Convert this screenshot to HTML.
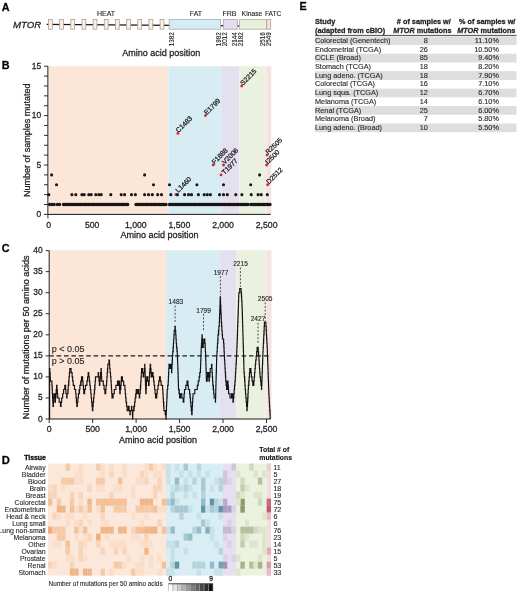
<!DOCTYPE html>
<html><head><meta charset="utf-8"><title>MTOR mutations figure</title>
<style>
html,body{margin:0;padding:0;background:#fff;}
body{width:520px;height:591px;overflow:hidden;}
svg{display:block;font-family:'Liberation Sans', Arial, Helvetica, sans-serif;}
text{stroke:#231f20;stroke-width:0.28px;paint-order:stroke;}
text.ns{stroke:none;}
text.ls{stroke-width:0.12px;}
</style></head><body>
<svg width="520" height="591" viewBox="0 0 520 591">
<rect width="520" height="591" fill="#fff"/>
<text x="1.70" y="10.60" font-size="10.8" font-weight="bold" fill="#000">A</text>
<text x="13.00" y="27.60" font-size="9.6" font-style="italic" fill="#231f20">MTOR</text>
<line x1="46.6" y1="24.4" x2="239" y2="25.9" stroke="#1a1617" stroke-width="1.4"/>
<rect x="48.50" y="19.4" width="3.8" height="9.8" fill="#fcefe3" stroke="#aaa199" stroke-width="0.8"/>
<rect x="59.66" y="19.4" width="3.8" height="9.8" fill="#fcefe3" stroke="#aaa199" stroke-width="0.8"/>
<rect x="70.82" y="19.4" width="3.8" height="9.8" fill="#fcefe3" stroke="#aaa199" stroke-width="0.8"/>
<rect x="81.98" y="19.4" width="3.8" height="9.8" fill="#fcefe3" stroke="#aaa199" stroke-width="0.8"/>
<rect x="93.14" y="19.4" width="3.8" height="9.8" fill="#fcefe3" stroke="#aaa199" stroke-width="0.8"/>
<rect x="104.30" y="19.4" width="3.8" height="9.8" fill="#fcefe3" stroke="#aaa199" stroke-width="0.8"/>
<rect x="115.46" y="19.4" width="3.8" height="9.8" fill="#fcefe3" stroke="#aaa199" stroke-width="0.8"/>
<rect x="126.62" y="19.4" width="3.8" height="9.8" fill="#fcefe3" stroke="#aaa199" stroke-width="0.8"/>
<rect x="137.78" y="19.4" width="3.8" height="9.8" fill="#fcefe3" stroke="#aaa199" stroke-width="0.8"/>
<rect x="148.94" y="19.4" width="3.8" height="9.8" fill="#fcefe3" stroke="#aaa199" stroke-width="0.8"/>
<rect x="160.10" y="19.4" width="3.8" height="9.8" fill="#fcefe3" stroke="#aaa199" stroke-width="0.8"/>
<rect x="169.2" y="19.4" width="51.4" height="9.8" fill="#d6ecf5" stroke="#a3aeb3" stroke-width="0.8"/>
<rect x="223.3" y="19.4" width="14" height="9.8" fill="#e3ddec" stroke="#aaa5ae" stroke-width="0.8"/>
<rect x="239.5" y="19.4" width="27.2" height="9.8" fill="#eaf1da" stroke="#aab09f" stroke-width="0.8"/>
<rect x="266.7" y="19.4" width="4" height="9.8" fill="#f6e0d8" stroke="#b1a39e" stroke-width="0.8"/>
<text x="106.00" y="15.60" font-size="7.0" text-anchor="middle" fill="#231f20" class="ls">HEAT</text>
<text x="196.00" y="15.60" font-size="7.0" text-anchor="middle" fill="#231f20" class="ls">FAT</text>
<text x="229.50" y="15.60" font-size="7.0" text-anchor="middle" fill="#231f20" class="ls">FRB</text>
<text x="241.60" y="15.60" font-size="6.8" fill="#231f20" class="ls">Kinase</text>
<text x="264.90" y="15.60" font-size="6.6" fill="#231f20" class="ls">FATC</text>
<text transform="translate(173.80,32.20) rotate(-90)" font-size="6.3" text-anchor="end" fill="#231f20" class="ls">1382</text>
<text transform="translate(221.10,32.20) rotate(-90)" font-size="6.3" text-anchor="end" fill="#231f20" class="ls">1982</text>
<text transform="translate(227.00,32.20) rotate(-90)" font-size="6.3" text-anchor="end" fill="#231f20" class="ls">2012</text>
<text transform="translate(236.80,32.20) rotate(-90)" font-size="6.3" text-anchor="end" fill="#231f20" class="ls">2144</text>
<text transform="translate(243.10,32.20) rotate(-90)" font-size="6.3" text-anchor="end" fill="#231f20" class="ls">2182</text>
<text transform="translate(265.40,32.20) rotate(-90)" font-size="6.3" text-anchor="end" fill="#231f20" class="ls">2516</text>
<text transform="translate(271.00,32.20) rotate(-90)" font-size="6.3" text-anchor="end" fill="#231f20" class="ls">2549</text>
<text x="161.30" y="55.50" font-size="9.0" text-anchor="middle" fill="#231f20">Amino acid position</text>
<rect x="49.20" y="66.20" width="119.20" height="148.00" fill="#fce6d7"/>
<rect x="168.40" y="66.20" width="52.90" height="148.00" fill="#d8ecf4"/>
<rect x="221.30" y="66.20" width="17.90" height="148.00" fill="#e5e0ef"/>
<rect x="239.20" y="66.20" width="27.40" height="148.00" fill="#ebf1df"/>
<rect x="266.60" y="66.20" width="4.60" height="148.00" fill="#f5e2e3"/>
<rect x="264.1" y="66.2" width="2.5" height="148" fill="#f1efe4"/>
<text x="1.80" y="68.90" font-size="10.8" font-weight="bold" fill="#000">B</text>
<line x1="47.9" y1="66.20" x2="47.9" y2="214.40" stroke="#1a1617" stroke-width="1.0"/>
<line x1="47.9" y1="214.40" x2="270.8" y2="214.40" stroke="#1a1617" stroke-width="1.0"/>
<line x1="44.0" y1="214.40" x2="47.9" y2="214.40" stroke="#1a1617" stroke-width="0.9"/>
<line x1="44.0" y1="204.52" x2="47.9" y2="204.52" stroke="#1a1617" stroke-width="0.9"/>
<line x1="44.0" y1="194.64" x2="47.9" y2="194.64" stroke="#1a1617" stroke-width="0.9"/>
<line x1="44.0" y1="184.76" x2="47.9" y2="184.76" stroke="#1a1617" stroke-width="0.9"/>
<line x1="44.0" y1="174.88" x2="47.9" y2="174.88" stroke="#1a1617" stroke-width="0.9"/>
<line x1="44.0" y1="165.00" x2="47.9" y2="165.00" stroke="#1a1617" stroke-width="0.9"/>
<line x1="44.0" y1="155.12" x2="47.9" y2="155.12" stroke="#1a1617" stroke-width="0.9"/>
<line x1="44.0" y1="145.24" x2="47.9" y2="145.24" stroke="#1a1617" stroke-width="0.9"/>
<line x1="44.0" y1="135.36" x2="47.9" y2="135.36" stroke="#1a1617" stroke-width="0.9"/>
<line x1="44.0" y1="125.48" x2="47.9" y2="125.48" stroke="#1a1617" stroke-width="0.9"/>
<line x1="44.0" y1="115.60" x2="47.9" y2="115.60" stroke="#1a1617" stroke-width="0.9"/>
<line x1="44.0" y1="105.72" x2="47.9" y2="105.72" stroke="#1a1617" stroke-width="0.9"/>
<line x1="44.0" y1="95.84" x2="47.9" y2="95.84" stroke="#1a1617" stroke-width="0.9"/>
<line x1="44.0" y1="85.96" x2="47.9" y2="85.96" stroke="#1a1617" stroke-width="0.9"/>
<line x1="44.0" y1="76.08" x2="47.9" y2="76.08" stroke="#1a1617" stroke-width="0.9"/>
<line x1="44.0" y1="66.20" x2="47.9" y2="66.20" stroke="#1a1617" stroke-width="0.9"/>
<text x="41.20" y="217.00" font-size="8.4" text-anchor="end" fill="#231f20">0</text>
<text x="41.20" y="167.60" font-size="8.4" text-anchor="end" fill="#231f20">5</text>
<text x="41.20" y="118.20" font-size="8.4" text-anchor="end" fill="#231f20">10</text>
<text x="41.20" y="68.80" font-size="8.4" text-anchor="end" fill="#231f20">15</text>
<line x1="47.9" y1="214.40" x2="47.9" y2="218.40" stroke="#1a1617" stroke-width="0.9"/>
<text x="48.60" y="227.90" font-size="8.7" text-anchor="middle" fill="#231f20">0</text>
<text x="92.20" y="227.90" font-size="8.7" text-anchor="middle" fill="#231f20">500</text>
<text x="135.80" y="227.90" font-size="8.7" text-anchor="middle" fill="#231f20">1,000</text>
<text x="179.40" y="227.90" font-size="8.7" text-anchor="middle" fill="#231f20">1,500</text>
<text x="223.00" y="227.90" font-size="8.7" text-anchor="middle" fill="#231f20">2,000</text>
<text x="266.60" y="227.90" font-size="8.7" text-anchor="middle" fill="#231f20">2,500</text>
<text x="159.50" y="238.00" font-size="9.0" text-anchor="middle" fill="#231f20">Amino acid position</text>
<text transform="translate(29.60,140.30) rotate(-90)" font-size="9.05" text-anchor="middle" fill="#231f20">Number of samples mutated</text>
<circle cx="49.60" cy="204.52" r="1.65" fill="#1a1517"/>
<circle cx="51.90" cy="204.52" r="1.65" fill="#1a1517"/>
<circle cx="54.20" cy="204.52" r="1.65" fill="#1a1517"/>
<circle cx="57.30" cy="204.52" r="1.65" fill="#1a1517"/>
<circle cx="59.60" cy="204.52" r="1.65" fill="#1a1517"/>
<circle cx="63.50" cy="204.52" r="1.65" fill="#1a1517"/>
<circle cx="64.81" cy="204.52" r="1.65" fill="#1a1517"/>
<circle cx="66.12" cy="204.52" r="1.65" fill="#1a1517"/>
<circle cx="67.43" cy="204.52" r="1.65" fill="#1a1517"/>
<circle cx="68.74" cy="204.52" r="1.65" fill="#1a1517"/>
<circle cx="70.05" cy="204.52" r="1.65" fill="#1a1517"/>
<circle cx="71.36" cy="204.52" r="1.65" fill="#1a1517"/>
<circle cx="72.67" cy="204.52" r="1.65" fill="#1a1517"/>
<circle cx="73.98" cy="204.52" r="1.65" fill="#1a1517"/>
<circle cx="75.29" cy="204.52" r="1.65" fill="#1a1517"/>
<circle cx="76.60" cy="204.52" r="1.65" fill="#1a1517"/>
<circle cx="77.91" cy="204.52" r="1.65" fill="#1a1517"/>
<circle cx="79.22" cy="204.52" r="1.65" fill="#1a1517"/>
<circle cx="80.53" cy="204.52" r="1.65" fill="#1a1517"/>
<circle cx="81.84" cy="204.52" r="1.65" fill="#1a1517"/>
<circle cx="83.15" cy="204.52" r="1.65" fill="#1a1517"/>
<circle cx="84.46" cy="204.52" r="1.65" fill="#1a1517"/>
<circle cx="85.77" cy="204.52" r="1.65" fill="#1a1517"/>
<circle cx="87.08" cy="204.52" r="1.65" fill="#1a1517"/>
<circle cx="88.39" cy="204.52" r="1.65" fill="#1a1517"/>
<circle cx="89.70" cy="204.52" r="1.65" fill="#1a1517"/>
<circle cx="91.01" cy="204.52" r="1.65" fill="#1a1517"/>
<circle cx="92.32" cy="204.52" r="1.65" fill="#1a1517"/>
<circle cx="93.63" cy="204.52" r="1.65" fill="#1a1517"/>
<circle cx="94.94" cy="204.52" r="1.65" fill="#1a1517"/>
<circle cx="96.26" cy="204.52" r="1.65" fill="#1a1517"/>
<circle cx="97.57" cy="204.52" r="1.65" fill="#1a1517"/>
<circle cx="98.88" cy="204.52" r="1.65" fill="#1a1517"/>
<circle cx="100.19" cy="204.52" r="1.65" fill="#1a1517"/>
<circle cx="101.50" cy="204.52" r="1.65" fill="#1a1517"/>
<circle cx="102.81" cy="204.52" r="1.65" fill="#1a1517"/>
<circle cx="104.12" cy="204.52" r="1.65" fill="#1a1517"/>
<circle cx="105.43" cy="204.52" r="1.65" fill="#1a1517"/>
<circle cx="106.74" cy="204.52" r="1.65" fill="#1a1517"/>
<circle cx="108.05" cy="204.52" r="1.65" fill="#1a1517"/>
<circle cx="109.36" cy="204.52" r="1.65" fill="#1a1517"/>
<circle cx="110.67" cy="204.52" r="1.65" fill="#1a1517"/>
<circle cx="111.98" cy="204.52" r="1.65" fill="#1a1517"/>
<circle cx="113.29" cy="204.52" r="1.65" fill="#1a1517"/>
<circle cx="114.60" cy="204.52" r="1.65" fill="#1a1517"/>
<circle cx="115.91" cy="204.52" r="1.65" fill="#1a1517"/>
<circle cx="117.22" cy="204.52" r="1.65" fill="#1a1517"/>
<circle cx="118.53" cy="204.52" r="1.65" fill="#1a1517"/>
<circle cx="119.84" cy="204.52" r="1.65" fill="#1a1517"/>
<circle cx="121.15" cy="204.52" r="1.65" fill="#1a1517"/>
<circle cx="122.46" cy="204.52" r="1.65" fill="#1a1517"/>
<circle cx="123.77" cy="204.52" r="1.65" fill="#1a1517"/>
<circle cx="125.08" cy="204.52" r="1.65" fill="#1a1517"/>
<circle cx="126.39" cy="204.52" r="1.65" fill="#1a1517"/>
<circle cx="127.70" cy="204.52" r="1.65" fill="#1a1517"/>
<circle cx="136.00" cy="204.52" r="1.65" fill="#1a1517"/>
<circle cx="137.30" cy="204.52" r="1.65" fill="#1a1517"/>
<circle cx="138.61" cy="204.52" r="1.65" fill="#1a1517"/>
<circle cx="139.91" cy="204.52" r="1.65" fill="#1a1517"/>
<circle cx="141.22" cy="204.52" r="1.65" fill="#1a1517"/>
<circle cx="142.52" cy="204.52" r="1.65" fill="#1a1517"/>
<circle cx="143.83" cy="204.52" r="1.65" fill="#1a1517"/>
<circle cx="145.13" cy="204.52" r="1.65" fill="#1a1517"/>
<circle cx="146.43" cy="204.52" r="1.65" fill="#1a1517"/>
<circle cx="147.74" cy="204.52" r="1.65" fill="#1a1517"/>
<circle cx="149.04" cy="204.52" r="1.65" fill="#1a1517"/>
<circle cx="150.35" cy="204.52" r="1.65" fill="#1a1517"/>
<circle cx="151.65" cy="204.52" r="1.65" fill="#1a1517"/>
<circle cx="152.96" cy="204.52" r="1.65" fill="#1a1517"/>
<circle cx="154.26" cy="204.52" r="1.65" fill="#1a1517"/>
<circle cx="155.57" cy="204.52" r="1.65" fill="#1a1517"/>
<circle cx="156.87" cy="204.52" r="1.65" fill="#1a1517"/>
<circle cx="158.17" cy="204.52" r="1.65" fill="#1a1517"/>
<circle cx="159.48" cy="204.52" r="1.65" fill="#1a1517"/>
<circle cx="160.78" cy="204.52" r="1.65" fill="#1a1517"/>
<circle cx="162.09" cy="204.52" r="1.65" fill="#1a1517"/>
<circle cx="163.39" cy="204.52" r="1.65" fill="#1a1517"/>
<circle cx="164.70" cy="204.52" r="1.65" fill="#1a1517"/>
<circle cx="166.00" cy="204.52" r="1.65" fill="#1a1517"/>
<circle cx="169.50" cy="204.52" r="1.65" fill="#1a1517"/>
<circle cx="170.81" cy="204.52" r="1.65" fill="#1a1517"/>
<circle cx="172.12" cy="204.52" r="1.65" fill="#1a1517"/>
<circle cx="173.43" cy="204.52" r="1.65" fill="#1a1517"/>
<circle cx="174.73" cy="204.52" r="1.65" fill="#1a1517"/>
<circle cx="176.04" cy="204.52" r="1.65" fill="#1a1517"/>
<circle cx="177.35" cy="204.52" r="1.65" fill="#1a1517"/>
<circle cx="178.66" cy="204.52" r="1.65" fill="#1a1517"/>
<circle cx="179.97" cy="204.52" r="1.65" fill="#1a1517"/>
<circle cx="181.28" cy="204.52" r="1.65" fill="#1a1517"/>
<circle cx="182.58" cy="204.52" r="1.65" fill="#1a1517"/>
<circle cx="183.89" cy="204.52" r="1.65" fill="#1a1517"/>
<circle cx="185.20" cy="204.52" r="1.65" fill="#1a1517"/>
<circle cx="186.51" cy="204.52" r="1.65" fill="#1a1517"/>
<circle cx="187.82" cy="204.52" r="1.65" fill="#1a1517"/>
<circle cx="189.12" cy="204.52" r="1.65" fill="#1a1517"/>
<circle cx="190.43" cy="204.52" r="1.65" fill="#1a1517"/>
<circle cx="191.74" cy="204.52" r="1.65" fill="#1a1517"/>
<circle cx="193.05" cy="204.52" r="1.65" fill="#1a1517"/>
<circle cx="194.36" cy="204.52" r="1.65" fill="#1a1517"/>
<circle cx="195.67" cy="204.52" r="1.65" fill="#1a1517"/>
<circle cx="196.97" cy="204.52" r="1.65" fill="#1a1517"/>
<circle cx="198.28" cy="204.52" r="1.65" fill="#1a1517"/>
<circle cx="199.59" cy="204.52" r="1.65" fill="#1a1517"/>
<circle cx="200.90" cy="204.52" r="1.65" fill="#1a1517"/>
<circle cx="202.21" cy="204.52" r="1.65" fill="#1a1517"/>
<circle cx="203.52" cy="204.52" r="1.65" fill="#1a1517"/>
<circle cx="204.82" cy="204.52" r="1.65" fill="#1a1517"/>
<circle cx="206.13" cy="204.52" r="1.65" fill="#1a1517"/>
<circle cx="207.44" cy="204.52" r="1.65" fill="#1a1517"/>
<circle cx="208.75" cy="204.52" r="1.65" fill="#1a1517"/>
<circle cx="210.06" cy="204.52" r="1.65" fill="#1a1517"/>
<circle cx="211.37" cy="204.52" r="1.65" fill="#1a1517"/>
<circle cx="212.68" cy="204.52" r="1.65" fill="#1a1517"/>
<circle cx="213.98" cy="204.52" r="1.65" fill="#1a1517"/>
<circle cx="215.29" cy="204.52" r="1.65" fill="#1a1517"/>
<circle cx="216.60" cy="204.52" r="1.65" fill="#1a1517"/>
<circle cx="217.91" cy="204.52" r="1.65" fill="#1a1517"/>
<circle cx="219.22" cy="204.52" r="1.65" fill="#1a1517"/>
<circle cx="220.53" cy="204.52" r="1.65" fill="#1a1517"/>
<circle cx="221.83" cy="204.52" r="1.65" fill="#1a1517"/>
<circle cx="223.14" cy="204.52" r="1.65" fill="#1a1517"/>
<circle cx="224.45" cy="204.52" r="1.65" fill="#1a1517"/>
<circle cx="225.76" cy="204.52" r="1.65" fill="#1a1517"/>
<circle cx="227.07" cy="204.52" r="1.65" fill="#1a1517"/>
<circle cx="228.38" cy="204.52" r="1.65" fill="#1a1517"/>
<circle cx="229.68" cy="204.52" r="1.65" fill="#1a1517"/>
<circle cx="230.99" cy="204.52" r="1.65" fill="#1a1517"/>
<circle cx="232.30" cy="204.52" r="1.65" fill="#1a1517"/>
<circle cx="233.61" cy="204.52" r="1.65" fill="#1a1517"/>
<circle cx="234.92" cy="204.52" r="1.65" fill="#1a1517"/>
<circle cx="236.22" cy="204.52" r="1.65" fill="#1a1517"/>
<circle cx="237.53" cy="204.52" r="1.65" fill="#1a1517"/>
<circle cx="238.84" cy="204.52" r="1.65" fill="#1a1517"/>
<circle cx="240.15" cy="204.52" r="1.65" fill="#1a1517"/>
<circle cx="241.46" cy="204.52" r="1.65" fill="#1a1517"/>
<circle cx="242.77" cy="204.52" r="1.65" fill="#1a1517"/>
<circle cx="244.07" cy="204.52" r="1.65" fill="#1a1517"/>
<circle cx="245.38" cy="204.52" r="1.65" fill="#1a1517"/>
<circle cx="246.69" cy="204.52" r="1.65" fill="#1a1517"/>
<circle cx="248.00" cy="204.52" r="1.65" fill="#1a1517"/>
<circle cx="250.80" cy="204.52" r="1.65" fill="#1a1517"/>
<circle cx="252.08" cy="204.52" r="1.65" fill="#1a1517"/>
<circle cx="253.36" cy="204.52" r="1.65" fill="#1a1517"/>
<circle cx="254.64" cy="204.52" r="1.65" fill="#1a1517"/>
<circle cx="255.92" cy="204.52" r="1.65" fill="#1a1517"/>
<circle cx="257.20" cy="204.52" r="1.65" fill="#1a1517"/>
<circle cx="258.48" cy="204.52" r="1.65" fill="#1a1517"/>
<circle cx="259.76" cy="204.52" r="1.65" fill="#1a1517"/>
<circle cx="261.04" cy="204.52" r="1.65" fill="#1a1517"/>
<circle cx="262.32" cy="204.52" r="1.65" fill="#1a1517"/>
<circle cx="263.60" cy="204.52" r="1.65" fill="#1a1517"/>
<circle cx="264.88" cy="204.52" r="1.65" fill="#1a1517"/>
<circle cx="266.16" cy="204.52" r="1.65" fill="#1a1517"/>
<circle cx="267.44" cy="204.52" r="1.65" fill="#1a1517"/>
<circle cx="268.72" cy="204.52" r="1.65" fill="#1a1517"/>
<circle cx="270.00" cy="204.52" r="1.65" fill="#1a1517"/>
<circle cx="48.80" cy="194.64" r="1.55" fill="#1a1517"/>
<circle cx="71.90" cy="194.64" r="1.55" fill="#1a1517"/>
<circle cx="75.80" cy="194.64" r="1.55" fill="#1a1517"/>
<circle cx="81.90" cy="194.64" r="1.55" fill="#1a1517"/>
<circle cx="84.20" cy="194.64" r="1.55" fill="#1a1517"/>
<circle cx="88.80" cy="194.64" r="1.55" fill="#1a1517"/>
<circle cx="91.20" cy="194.64" r="1.55" fill="#1a1517"/>
<circle cx="95.80" cy="194.64" r="1.55" fill="#1a1517"/>
<circle cx="98.80" cy="194.64" r="1.55" fill="#1a1517"/>
<circle cx="101.20" cy="194.64" r="1.55" fill="#1a1517"/>
<circle cx="110.80" cy="194.64" r="1.55" fill="#1a1517"/>
<circle cx="121.20" cy="194.64" r="1.55" fill="#1a1517"/>
<circle cx="124.60" cy="194.64" r="1.55" fill="#1a1517"/>
<circle cx="131.50" cy="194.64" r="1.55" fill="#1a1517"/>
<circle cx="135.40" cy="194.64" r="1.55" fill="#1a1517"/>
<circle cx="144.60" cy="194.64" r="1.55" fill="#1a1517"/>
<circle cx="148.50" cy="194.64" r="1.55" fill="#1a1517"/>
<circle cx="152.30" cy="194.64" r="1.55" fill="#1a1517"/>
<circle cx="157.70" cy="194.64" r="1.55" fill="#1a1517"/>
<circle cx="161.50" cy="194.64" r="1.55" fill="#1a1517"/>
<circle cx="170.80" cy="194.64" r="1.55" fill="#1a1517"/>
<circle cx="184.60" cy="194.64" r="1.55" fill="#1a1517"/>
<circle cx="188.50" cy="194.64" r="1.55" fill="#1a1517"/>
<circle cx="191.50" cy="194.64" r="1.55" fill="#1a1517"/>
<circle cx="198.40" cy="194.64" r="1.55" fill="#1a1517"/>
<circle cx="204.20" cy="194.64" r="1.55" fill="#1a1517"/>
<circle cx="207.30" cy="194.64" r="1.55" fill="#1a1517"/>
<circle cx="210.40" cy="194.64" r="1.55" fill="#1a1517"/>
<circle cx="219.60" cy="194.64" r="1.55" fill="#1a1517"/>
<circle cx="223.50" cy="194.64" r="1.55" fill="#1a1517"/>
<circle cx="227.30" cy="194.64" r="1.55" fill="#1a1517"/>
<circle cx="235.80" cy="194.64" r="1.55" fill="#1a1517"/>
<circle cx="241.90" cy="194.64" r="1.55" fill="#1a1517"/>
<circle cx="251.20" cy="194.64" r="1.55" fill="#1a1517"/>
<circle cx="258.10" cy="194.64" r="1.55" fill="#1a1517"/>
<circle cx="261.20" cy="194.64" r="1.55" fill="#1a1517"/>
<circle cx="267.30" cy="194.64" r="1.55" fill="#1a1517"/>
<circle cx="56.50" cy="184.76" r="1.55" fill="#1a1517"/>
<circle cx="153.50" cy="184.76" r="1.55" fill="#1a1517"/>
<circle cx="169.50" cy="184.76" r="1.55" fill="#1a1517"/>
<circle cx="196.90" cy="184.76" r="1.55" fill="#1a1517"/>
<circle cx="223.50" cy="184.76" r="1.55" fill="#1a1517"/>
<circle cx="250.70" cy="184.76" r="1.55" fill="#1a1517"/>
<circle cx="51.60" cy="174.88" r="1.55" fill="#1a1517"/>
<circle cx="144.60" cy="174.88" r="1.55" fill="#1a1517"/>
<circle cx="259.60" cy="174.88" r="1.55" fill="#1a1517"/>
<circle cx="175.91" cy="194.64" r="1.45" fill="#d7232f"/>
<text transform="translate(178.31,193.04) rotate(-45)" font-size="6.85" fill="#231f20">L1460</text>
<circle cx="177.92" cy="133.38" r="1.45" fill="#d7232f"/>
<text transform="translate(178.52,133.08) rotate(-45)" font-size="6.85" fill="#231f20">C1483</text>
<circle cx="205.47" cy="115.60" r="1.45" fill="#d7232f"/>
<text transform="translate(206.77,115.30) rotate(-45)" font-size="6.85" fill="#231f20">E1799</text>
<circle cx="213.23" cy="165.00" r="1.45" fill="#d7232f"/>
<text transform="translate(214.53,164.70) rotate(-45)" font-size="6.85" fill="#231f20">F1888</text>
<circle cx="220.99" cy="174.88" r="1.45" fill="#d7232f"/>
<text transform="translate(224.59,175.08) rotate(-45)" font-size="6.85" fill="#231f20">T1977</text>
<circle cx="223.52" cy="165.00" r="1.45" fill="#d7232f"/>
<text transform="translate(224.82,164.70) rotate(-45)" font-size="6.85" fill="#231f20">V2006</text>
<circle cx="241.75" cy="85.96" r="1.45" fill="#d7232f"/>
<text transform="translate(243.05,85.66) rotate(-45)" font-size="6.85" fill="#231f20">S2215</text>
<circle cx="266.60" cy="165.00" r="1.45" fill="#d7232f"/>
<text transform="translate(267.90,164.70) rotate(-45)" font-size="6.85" fill="#231f20">I2500</text>
<circle cx="267.04" cy="155.12" r="1.45" fill="#d7232f"/>
<text transform="translate(268.34,154.82) rotate(-45)" font-size="6.85" fill="#231f20">R2505</text>
<circle cx="267.65" cy="184.76" r="1.45" fill="#d7232f"/>
<text transform="translate(268.95,184.46) rotate(-45)" font-size="6.85" fill="#231f20">D2512</text>
<circle cx="177.4" cy="194.64" r="1.55" fill="#1a1517"/>
<rect x="50.20" y="250.20" width="115.80" height="168.60" fill="#fce6d7"/>
<rect x="166.00" y="250.20" width="53.80" height="168.60" fill="#d8ecf4"/>
<rect x="219.80" y="250.20" width="16.60" height="168.60" fill="#e5e0ef"/>
<rect x="236.40" y="250.20" width="30.60" height="168.60" fill="#ebf1df"/>
<rect x="267.00" y="250.20" width="4.50" height="168.60" fill="#f5e2e3"/>
<rect x="265.0" y="250.2" width="2.0" height="168.6" fill="#f1efe4"/>
<text x="1.80" y="252.20" font-size="10.8" font-weight="bold" fill="#000">C</text>
<line x1="49.2" y1="250.60" x2="49.2" y2="419.00" stroke="#1a1617" stroke-width="1.0"/>
<line x1="49.2" y1="419.00" x2="270.8" y2="419.00" stroke="#1a1617" stroke-width="1.0"/>
<line x1="45.6" y1="419.00" x2="49.2" y2="419.00" stroke="#1a1617" stroke-width="0.9"/>
<text x="42.60" y="421.50" font-size="8.4" text-anchor="end" fill="#231f20">0</text>
<line x1="45.6" y1="397.95" x2="49.2" y2="397.95" stroke="#1a1617" stroke-width="0.9"/>
<text x="42.60" y="400.45" font-size="8.4" text-anchor="end" fill="#231f20">5</text>
<line x1="45.6" y1="376.90" x2="49.2" y2="376.90" stroke="#1a1617" stroke-width="0.9"/>
<text x="42.60" y="379.40" font-size="8.4" text-anchor="end" fill="#231f20">10</text>
<line x1="45.6" y1="355.85" x2="49.2" y2="355.85" stroke="#1a1617" stroke-width="0.9"/>
<text x="42.60" y="358.35" font-size="8.4" text-anchor="end" fill="#231f20">15</text>
<line x1="45.6" y1="334.80" x2="49.2" y2="334.80" stroke="#1a1617" stroke-width="0.9"/>
<text x="42.60" y="337.30" font-size="8.4" text-anchor="end" fill="#231f20">20</text>
<line x1="45.6" y1="313.75" x2="49.2" y2="313.75" stroke="#1a1617" stroke-width="0.9"/>
<text x="42.60" y="316.25" font-size="8.4" text-anchor="end" fill="#231f20">25</text>
<line x1="45.6" y1="292.70" x2="49.2" y2="292.70" stroke="#1a1617" stroke-width="0.9"/>
<text x="42.60" y="295.20" font-size="8.4" text-anchor="end" fill="#231f20">30</text>
<line x1="45.6" y1="271.65" x2="49.2" y2="271.65" stroke="#1a1617" stroke-width="0.9"/>
<text x="42.60" y="274.15" font-size="8.4" text-anchor="end" fill="#231f20">35</text>
<line x1="45.6" y1="250.60" x2="49.2" y2="250.60" stroke="#1a1617" stroke-width="0.9"/>
<text x="42.60" y="253.10" font-size="8.4" text-anchor="end" fill="#231f20">40</text>
<line x1="49.20" y1="419.00" x2="49.20" y2="423.00" stroke="#1a1617" stroke-width="0.9"/>
<text x="49.20" y="432.30" font-size="8.7" text-anchor="middle" fill="#231f20">0</text>
<line x1="92.66" y1="419.00" x2="92.66" y2="423.00" stroke="#1a1617" stroke-width="0.9"/>
<text x="92.66" y="432.30" font-size="8.7" text-anchor="middle" fill="#231f20">500</text>
<line x1="136.12" y1="419.00" x2="136.12" y2="423.00" stroke="#1a1617" stroke-width="0.9"/>
<text x="136.12" y="432.30" font-size="8.7" text-anchor="middle" fill="#231f20">1,000</text>
<line x1="179.58" y1="419.00" x2="179.58" y2="423.00" stroke="#1a1617" stroke-width="0.9"/>
<text x="179.58" y="432.30" font-size="8.7" text-anchor="middle" fill="#231f20">1,500</text>
<line x1="223.04" y1="419.00" x2="223.04" y2="423.00" stroke="#1a1617" stroke-width="0.9"/>
<text x="223.04" y="432.30" font-size="8.7" text-anchor="middle" fill="#231f20">2,000</text>
<line x1="266.50" y1="419.00" x2="266.50" y2="423.00" stroke="#1a1617" stroke-width="0.9"/>
<text x="266.50" y="432.30" font-size="8.7" text-anchor="middle" fill="#231f20">2,500</text>
<text x="157.90" y="443.00" font-size="9.0" text-anchor="middle" fill="#231f20">Amino acid position</text>
<text transform="translate(29.00,337.30) rotate(-90)" font-size="9.1" text-anchor="middle" fill="#231f20">Number of mutations per 50 amino acids</text>
<line x1="49.2" y1="355.85" x2="270.6" y2="355.85" stroke="#221e1f" stroke-width="1.05" stroke-dasharray="4.6,2.8"/>
<text x="51.80" y="351.60" font-size="9.0" fill="#231f20" class="ls">p &lt; 0.05</text>
<text x="51.80" y="363.80" font-size="9.0" fill="#231f20" class="ls">p &gt; 0.05</text>
<polyline points="49.60,419.00 49.60,368.48 49.83,368.48 49.83,372.69 50.07,372.69 50.07,376.90 50.14,376.90 50.14,372.69 50.17,372.69 50.17,376.90 50.30,376.90 50.30,381.11 51.90,381.11 51.90,385.32 52.12,385.32 52.12,389.53 52.19,389.53 52.19,385.32 52.22,385.32 52.22,389.53 52.34,389.53 52.34,393.74 52.56,393.74 52.56,397.95 52.78,397.95 52.78,402.16 52.85,402.16 52.85,397.95 52.88,397.95 52.88,402.16 53.00,402.16 53.00,406.37 53.30,406.37 53.30,402.16 53.39,402.16 53.39,406.37 53.43,406.37 53.43,402.16 53.60,402.16 53.60,397.95 53.90,397.95 53.90,393.74 54.45,393.74 54.45,397.95 54.62,397.95 54.62,393.74 54.70,393.74 54.70,397.95 55.00,397.95 55.00,402.16 55.40,402.16 55.40,397.95 55.80,397.95 55.80,393.74 55.92,393.74 55.92,397.95 55.98,397.95 55.98,393.74 56.20,393.74 56.20,389.53 56.32,389.53 56.32,393.74 56.38,393.74 56.38,389.53 56.60,389.53 56.60,385.32 56.97,385.32 56.97,389.53 57.33,389.53 57.33,393.74 57.70,393.74 57.70,397.95 59.20,397.95 59.20,402.16 60.50,402.16 60.50,406.37 61.10,406.37 61.10,402.16 61.70,402.16 61.70,397.95 62.65,397.95 62.65,393.74 63.60,393.74 63.60,389.53 64.80,389.53 64.80,385.32 65.35,385.32 65.35,389.53 65.52,389.53 65.52,385.32 65.60,385.32 65.60,389.53 65.90,389.53 65.90,393.74 66.70,393.74 66.70,397.95 67.05,397.95 67.05,393.74 67.50,393.74 67.88,393.74 67.88,389.53 67.99,389.53 67.99,393.74 68.04,393.74 68.04,389.53 68.25,389.53 68.25,385.32 68.62,385.32 68.62,381.11 68.74,381.11 68.74,385.32 68.79,385.32 68.79,381.11 69.00,381.11 69.00,376.90 69.40,376.90 69.40,372.69 69.80,372.69 69.80,368.48 71.10,368.48 71.10,372.69 72.10,372.69 72.10,376.90 72.65,376.90 72.65,381.11 73.20,381.11 73.20,385.32 74.50,385.32 74.50,389.53 75.70,389.53 75.70,393.74 76.07,393.74 76.07,397.95 76.43,397.95 76.43,402.16 76.80,402.16 76.80,406.37 77.33,406.37 77.33,402.16 77.87,402.16 77.87,397.95 78.40,397.95 78.40,393.74 79.15,393.74 79.15,389.53 79.38,389.53 79.38,393.74 79.49,393.74 79.49,389.53 79.90,389.53 79.90,385.32 80.70,385.32 80.70,381.11 80.94,381.11 80.94,385.32 81.06,385.32 81.06,381.11 81.50,381.11 81.50,376.90 82.60,376.90 82.60,381.11 83.00,381.11 83.00,385.32 83.40,385.32 83.40,389.53 83.80,389.53 83.80,393.74 84.60,393.74 84.60,389.53 85.40,389.53 85.40,385.32 86.90,385.32 86.90,381.11 87.55,381.11 87.55,376.90 88.20,376.90 88.20,372.69 88.75,372.69 88.75,376.90 89.30,376.90 89.30,381.11 89.80,381.11 89.80,385.32 90.30,385.32 90.30,389.53 90.80,389.53 90.80,393.74 91.20,393.74 91.20,397.95 91.60,397.95 91.60,402.16 92.00,402.16 92.00,406.37 92.40,406.37 92.40,410.58 92.80,410.58 92.80,406.37 93.20,406.37 93.20,402.16 93.60,402.16 93.60,397.95 94.00,397.95 94.00,393.74 94.38,393.74 94.38,389.53 94.49,389.53 94.49,393.74 94.54,393.74 94.54,389.53 94.75,389.53 94.75,385.32 94.86,385.32 94.86,389.53 94.92,389.53 94.92,385.32 95.12,385.32 95.12,381.11 95.50,381.11 95.50,376.90 97.10,376.90 98.20,376.90 98.20,372.69 98.60,372.69 98.60,376.90 99.00,376.90 99.00,381.11 99.40,381.11 99.40,385.32 99.80,385.32 99.80,381.11 100.20,381.11 100.20,376.90 100.60,376.90 100.60,372.69 101.00,372.69 101.00,368.48 101.23,368.48 101.23,372.69 101.47,372.69 101.47,376.90 101.70,376.90 101.70,381.11 103.30,381.11 103.30,385.32 104.10,385.32 104.10,389.53 104.90,389.53 104.90,393.74 105.47,393.74 105.47,389.53 105.64,389.53 105.64,393.74 105.72,393.74 105.72,389.53 106.03,389.53 106.03,385.32 106.60,385.32 106.60,381.11 106.90,381.11 106.90,376.90 107.20,376.90 107.20,372.69 107.50,372.69 107.50,368.48 107.59,368.48 107.59,372.69 107.64,372.69 107.64,368.48 107.80,368.48 107.80,364.27 108.90,364.27 108.90,360.06 109.30,360.06 109.30,364.27 109.42,364.27 109.42,360.06 109.48,360.06 109.48,364.27 109.70,364.27 109.70,368.48 110.10,368.48 110.10,372.69 110.50,372.69 110.50,376.90 110.90,376.90 110.90,381.11 111.18,381.11 111.18,385.32 111.45,385.32 111.45,389.53 111.72,389.53 111.72,393.74 112.00,393.74 112.00,397.95 113.10,397.95 113.10,393.74 114.30,393.74 114.30,389.53 115.90,389.53 115.90,385.32 117.50,385.32 117.50,381.11 118.25,381.11 118.25,385.32 118.60,385.32 118.60,381.11 119.00,381.11 119.27,381.11 119.27,385.32 119.35,385.32 119.35,381.11 119.39,381.11 119.39,385.32 119.53,385.32 119.53,389.53 119.61,389.53 119.61,385.32 119.65,385.32 119.65,389.53 119.80,389.53 119.80,393.74 120.20,393.74 120.20,389.53 120.60,389.53 120.60,385.32 120.72,385.32 120.72,389.53 120.78,389.53 120.78,385.32 121.00,385.32 121.00,381.11 121.12,381.11 121.12,385.32 121.18,385.32 121.18,381.11 121.40,381.11 121.40,376.90 122.40,376.90 122.40,381.11 123.70,381.11 123.70,385.32 124.90,385.32 124.90,389.53 125.27,389.53 125.27,393.74 125.63,393.74 125.63,397.95 126.00,397.95 126.00,402.16 126.55,402.16 126.55,406.37 127.10,406.37 127.10,410.58 128.40,410.58 128.40,406.37 129.10,406.37 129.10,410.58 129.90,410.58 129.90,414.79 130.25,414.79 130.25,410.58 130.70,410.58 131.50,410.58 131.50,406.37 131.85,406.37 131.85,410.58 132.30,410.58 132.45,410.58 132.45,414.79 132.60,414.79 132.60,419.00 132.75,419.00 132.75,414.79 132.90,414.79 132.90,410.58 133.75,410.58 133.75,406.37 134.00,406.37 134.00,410.58 134.13,410.58 134.13,406.37 134.60,406.37 134.60,402.16 135.13,402.16 135.13,397.95 135.67,397.95 135.67,393.74 135.83,393.74 135.83,397.95 135.91,397.95 135.91,393.74 136.20,393.74 136.20,389.53 136.95,389.53 136.95,393.74 137.30,393.74 137.30,389.53 137.70,389.53 138.50,389.53 138.50,393.74 139.30,393.74 139.30,397.95 139.68,397.95 139.68,393.74 140.05,393.74 140.05,389.53 140.16,389.53 140.16,393.74 140.22,393.74 140.22,389.53 140.43,389.53 140.43,385.32 140.54,385.32 140.54,389.53 140.59,389.53 140.59,385.32 140.80,385.32 140.80,381.11 141.07,381.11 141.07,376.90 141.33,376.90 141.33,372.69 141.60,372.69 141.60,368.48 142.40,368.48 142.40,372.69 143.20,372.69 143.20,376.90 143.70,376.90 143.70,372.69 144.20,372.69 144.20,368.48 144.70,368.48 144.70,364.27 144.86,364.27 144.86,368.48 145.01,368.48 145.01,372.69 145.06,372.69 145.06,368.48 145.08,368.48 145.08,372.69 145.17,372.69 145.17,376.90 145.33,376.90 145.33,381.11 145.49,381.11 145.49,385.32 145.64,385.32 145.64,389.53 145.80,389.53 145.80,393.74 146.03,393.74 146.03,389.53 146.09,389.53 146.09,393.74 146.13,393.74 146.13,389.53 146.25,389.53 146.25,385.32 146.47,385.32 146.47,381.11 146.70,381.11 146.70,376.90 147.65,376.90 147.65,381.11 148.60,381.11 148.60,385.32 148.92,385.32 148.92,381.11 149.02,381.11 149.02,385.32 149.06,385.32 149.06,381.11 149.24,381.11 149.24,376.90 149.56,376.90 149.56,372.69 149.66,372.69 149.66,376.90 149.70,376.90 149.70,372.69 149.88,372.69 149.88,368.48 150.20,368.48 150.20,364.27 150.60,364.27 150.60,368.48 151.00,368.48 151.00,372.69 151.40,372.69 151.40,376.90 152.50,376.90 152.50,372.69 153.03,372.69 153.03,376.90 153.57,376.90 153.57,381.11 154.10,381.11 154.10,385.32 154.60,385.32 154.60,389.53 155.10,389.53 155.10,393.74 155.60,393.74 155.60,397.95 156.40,397.95 156.40,393.74 156.64,393.74 156.64,397.95 156.76,397.95 156.76,393.74 157.20,393.74 157.20,389.53 157.97,389.53 157.97,385.32 158.73,385.32 158.73,381.11 159.50,381.11 159.50,376.90 160.30,376.90 160.30,381.11 161.10,381.11 161.10,385.32 162.60,385.32 162.60,389.53 162.86,389.53 162.86,393.74 163.12,393.74 163.12,397.95 163.38,397.95 163.38,402.16 163.64,402.16 163.64,406.37 163.72,406.37 163.72,402.16 163.76,402.16 163.76,406.37 163.90,406.37 163.90,410.58 165.20,410.58 165.20,414.79 165.90,414.79 165.90,419.00 166.09,419.00 166.09,414.79 166.27,414.79 166.27,410.58 166.46,410.58 166.46,406.37 166.64,406.37 166.64,402.16 166.83,402.16 166.83,397.95 167.01,397.95 167.01,393.74 167.07,393.74 167.07,397.95 167.10,397.95 167.10,393.74 167.20,393.74 167.20,389.53 167.70,389.53 167.70,385.32 168.20,385.32 168.20,381.11 168.40,381.11 168.40,376.90 168.60,376.90 168.60,372.69 168.80,372.69 168.80,368.48 169.00,368.48 169.00,364.27 169.80,364.27 169.80,368.48 170.80,368.48 170.80,364.27 171.20,364.27 171.20,368.48 171.60,368.48 171.60,372.69 171.80,372.69 171.80,368.48 172.00,368.48 172.00,364.27 172.20,364.27 172.20,360.06 172.26,360.06 172.26,364.27 172.29,364.27 172.29,360.06 172.40,360.06 172.40,355.85 172.73,355.85 172.73,351.64 173.07,351.64 173.07,347.43 173.17,347.43 173.17,351.64 173.22,351.64 173.22,347.43 173.40,347.43 173.40,343.22 173.67,343.22 173.67,339.01 173.93,339.01 173.93,334.80 174.20,334.80 174.20,330.59 174.90,330.59 174.90,326.38 175.30,326.38 175.30,330.59 175.70,330.59 175.70,334.80 175.97,334.80 175.97,339.01 176.23,339.01 176.23,343.22 176.50,343.22 176.50,347.43 176.90,347.43 176.90,351.64 177.02,351.64 177.02,347.43 177.08,347.43 177.08,351.64 177.30,351.64 177.30,355.85 177.48,355.85 177.48,360.06 177.53,360.06 177.53,355.85 177.55,355.85 177.55,360.06 177.65,360.06 177.65,364.27 177.82,364.27 177.82,368.48 178.00,368.48 178.00,372.69 178.12,372.69 178.12,376.90 178.25,376.90 178.25,381.11 178.38,381.11 178.38,385.32 178.50,385.32 178.50,389.53 179.05,389.53 179.05,393.74 179.22,393.74 179.22,389.53 179.30,389.53 179.30,393.74 179.60,393.74 179.60,397.95 180.60,397.95 180.60,393.74 181.90,393.74 181.90,397.95 183.20,397.95 183.20,402.16 183.63,402.16 183.63,397.95 183.76,397.95 183.76,402.16 183.83,402.16 183.83,397.95 184.07,397.95 184.07,393.74 184.50,393.74 184.50,389.53 185.80,389.53 185.80,385.32 187.00,385.32 187.00,381.11 187.65,381.11 187.65,385.32 187.84,385.32 187.84,381.11 187.94,381.11 187.94,385.32 188.30,385.32 188.30,389.53 189.60,389.53 189.60,393.74 190.03,393.74 190.03,397.95 190.16,397.95 190.16,393.74 190.23,393.74 190.23,397.95 190.47,397.95 190.47,402.16 190.90,402.16 190.90,406.37 191.30,406.37 191.30,410.58 191.70,410.58 191.70,414.79 191.96,414.79 191.96,410.58 192.04,410.58 192.04,414.79 192.08,414.79 192.08,410.58 192.22,410.58 192.22,406.37 192.48,406.37 192.48,402.16 192.74,402.16 192.74,397.95 193.00,397.95 193.00,393.74 194.80,393.74 194.80,389.53 197.30,389.53 197.30,385.32 198.20,385.32 198.20,381.11 199.10,381.11 199.10,376.90 199.75,376.90 199.75,372.69 200.40,372.69 200.40,368.48 200.56,368.48 200.56,364.27 200.72,364.27 200.72,360.06 200.88,360.06 200.88,355.85 201.04,355.85 201.04,351.64 201.20,351.64 201.20,347.43 201.47,347.43 201.47,343.22 201.55,343.22 201.55,347.43 201.59,347.43 201.59,343.22 201.73,343.22 201.73,339.01 201.81,339.01 201.81,343.22 201.85,343.22 201.85,339.01 202.00,339.01 202.00,334.80 202.23,334.80 202.23,339.01 202.47,339.01 202.47,343.22 202.70,343.22 202.70,347.43 203.25,347.43 203.25,343.22 203.80,343.22 203.80,339.01 204.80,339.01 204.80,343.22 205.07,343.22 205.07,347.43 205.15,347.43 205.15,343.22 205.19,343.22 205.19,347.43 205.33,347.43 205.33,351.64 205.60,351.64 205.60,355.85 205.73,355.85 205.73,360.06 205.77,360.06 205.77,355.85 205.79,355.85 205.79,360.06 205.87,360.06 205.87,364.27 206.00,364.27 206.00,368.48 206.13,368.48 206.13,372.69 206.27,372.69 206.27,376.90 206.40,376.90 206.40,381.11 207.00,381.11 207.00,376.90 207.18,376.90 207.18,381.11 207.27,381.11 207.27,376.90 207.60,376.90 207.60,372.69 208.25,372.69 208.25,376.90 208.44,376.90 208.44,372.69 208.54,372.69 208.54,376.90 208.90,376.90 208.90,381.11 209.33,381.11 209.33,376.90 209.77,376.90 209.77,372.69 209.90,372.69 209.90,376.90 209.96,376.90 209.96,372.69 210.20,372.69 210.20,368.48 211.50,368.48 211.50,364.27 211.76,364.27 211.76,368.48 211.84,368.48 211.84,364.27 211.88,364.27 211.88,368.48 212.02,368.48 212.02,372.69 212.28,372.69 212.28,376.90 212.54,376.90 212.54,381.11 212.80,381.11 212.80,385.32 213.23,385.32 213.23,389.53 213.36,389.53 213.36,385.32 213.43,385.32 213.43,389.53 213.67,389.53 213.67,393.74 214.10,393.74 214.10,397.95 215.40,397.95 215.40,402.16 215.52,402.16 215.52,397.95 215.64,397.95 215.64,393.74 215.67,393.74 215.67,397.95 215.69,397.95 215.69,393.74 215.75,393.74 215.75,389.53 215.87,389.53 215.87,385.32 215.99,385.32 215.99,381.11 216.11,381.11 216.11,376.90 216.23,376.90 216.23,372.69 216.35,372.69 216.35,368.48 216.38,368.48 216.38,372.69 216.40,372.69 216.40,368.48 216.46,368.48 216.46,364.27 216.58,364.27 216.58,360.06 216.70,360.06 216.70,355.85 216.96,355.85 216.96,351.64 217.22,351.64 217.22,347.43 217.48,347.43 217.48,343.22 217.74,343.22 217.74,339.01 217.82,339.01 217.82,343.22 217.86,343.22 217.86,339.01 218.00,339.01 218.00,334.80 218.43,334.80 218.43,330.59 218.56,330.59 218.56,334.80 218.63,334.80 218.63,330.59 218.87,330.59 218.87,326.38 219.30,326.38 219.30,322.17 219.45,322.17 219.45,317.96 219.60,317.96 219.60,313.75 219.75,313.75 219.75,309.54 219.79,309.54 219.79,313.75 219.82,313.75 219.82,309.54 219.90,309.54 219.90,305.33 219.94,305.33 219.94,309.54 219.97,309.54 219.97,305.33 220.05,305.33 220.05,301.12 220.20,301.12 220.20,296.91 220.38,296.91 220.38,301.12 220.44,301.12 220.44,296.91 220.47,296.91 220.47,301.12 220.57,301.12 220.57,305.33 220.75,305.33 220.75,309.54 220.81,309.54 220.81,305.33 220.83,305.33 220.83,309.54 220.93,309.54 220.93,313.75 221.12,313.75 221.12,317.96 221.17,317.96 221.17,313.75 221.20,313.75 221.20,317.96 221.30,317.96 221.30,322.17 221.60,322.17 221.60,326.38 221.90,326.38 221.90,330.59 222.20,330.59 222.20,334.80 222.50,334.80 222.50,339.01 223.60,339.01 223.60,343.22 223.82,343.22 223.82,347.43 223.89,347.43 223.89,343.22 223.93,343.22 223.93,347.43 224.05,347.43 224.05,351.64 224.28,351.64 224.28,355.85 224.50,355.85 224.50,360.06 224.74,360.06 224.74,364.27 224.98,364.27 224.98,368.48 225.22,368.48 225.22,372.69 225.46,372.69 225.46,376.90 225.53,376.90 225.53,372.69 225.57,372.69 225.57,376.90 225.70,376.90 225.70,381.11 226.15,381.11 226.15,385.32 226.28,385.32 226.28,381.11 226.35,381.11 226.35,385.32 226.60,385.32 226.60,389.53 227.00,389.53 227.00,385.32 227.12,385.32 227.12,389.53 227.18,389.53 227.18,385.32 227.40,385.32 227.40,381.11 227.80,381.11 227.80,385.32 227.92,385.32 227.92,381.11 227.98,381.11 227.98,385.32 228.20,385.32 228.20,389.53 228.32,389.53 228.32,385.32 228.38,385.32 228.38,389.53 228.60,389.53 228.60,393.74 230.00,393.74 230.00,397.95 231.50,397.95 231.50,393.74 232.25,393.74 232.25,397.95 232.47,397.95 232.47,393.74 232.59,393.74 232.59,397.95 233.00,397.95 233.00,402.16 233.40,402.16 233.40,397.95 233.80,397.95 233.80,393.74 234.18,393.74 234.18,389.53 234.55,389.53 234.55,385.32 234.93,385.32 234.93,381.11 235.30,381.11 235.30,376.90 235.53,376.90 235.53,372.69 235.77,372.69 235.77,368.48 236.00,368.48 236.00,364.27 236.23,364.27 236.23,360.06 236.30,360.06 236.30,364.27 236.34,364.27 236.34,360.06 236.47,360.06 236.47,355.85 236.70,355.85 236.70,351.64 236.85,351.64 236.85,347.43 237.00,347.43 237.00,343.22 237.04,343.22 237.04,347.43 237.07,347.43 237.07,343.22 237.15,343.22 237.15,339.01 237.19,339.01 237.19,343.22 237.22,343.22 237.22,339.01 237.30,339.01 237.30,334.80 237.34,334.80 237.34,339.01 237.37,339.01 237.37,334.80 237.45,334.80 237.45,330.59 237.49,330.59 237.49,334.80 237.52,334.80 237.52,330.59 237.60,330.59 237.60,326.38 237.75,326.38 237.75,322.17 237.79,322.17 237.79,326.38 237.82,326.38 237.82,322.17 237.90,322.17 237.90,317.96 237.94,317.96 237.94,322.17 237.97,322.17 237.97,317.96 238.05,317.96 238.05,313.75 238.09,313.75 238.09,317.96 238.12,317.96 238.12,313.75 238.20,313.75 238.20,309.54 238.24,309.54 238.24,313.75 238.27,313.75 238.27,309.54 238.35,309.54 238.35,305.33 238.50,305.33 238.50,301.12 238.65,301.12 238.65,296.91 238.80,296.91 238.80,292.70 239.70,292.70 239.70,288.49 241.10,288.49 241.10,292.70 241.40,292.70 241.40,296.91 241.49,296.91 241.49,292.70 241.53,292.70 241.53,296.91 241.70,296.91 241.70,301.12 242.00,301.12 242.00,305.33 242.13,305.33 242.13,309.54 242.26,309.54 242.26,313.75 242.30,313.75 242.30,309.54 242.31,309.54 242.31,313.75 242.39,313.75 242.39,317.96 242.42,317.96 242.42,313.75 242.44,313.75 242.44,317.96 242.51,317.96 242.51,322.17 242.64,322.17 242.64,326.38 242.77,326.38 242.77,330.59 242.90,330.59 242.90,334.80 243.02,334.80 243.02,339.01 243.14,339.01 243.14,343.22 243.27,343.22 243.27,347.43 243.30,347.43 243.30,343.22 243.32,343.22 243.32,347.43 243.39,347.43 243.39,351.64 243.51,351.64 243.51,355.85 243.63,355.85 243.63,360.06 243.67,360.06 243.67,355.85 243.69,355.85 243.69,360.06 243.76,360.06 243.76,364.27 243.79,364.27 243.79,360.06 243.81,360.06 243.81,364.27 243.88,364.27 243.88,368.48 244.00,368.48 244.00,372.69 244.30,372.69 244.30,376.90 244.60,376.90 244.60,381.11 244.69,381.11 244.69,376.90 244.73,376.90 244.73,381.11 244.90,381.11 244.90,385.32 245.20,385.32 245.20,389.53 245.50,389.53 245.50,393.74 245.85,393.74 245.85,397.95 246.20,397.95 246.20,402.16 246.55,402.16 246.55,406.37 246.90,406.37 246.90,410.58 247.15,410.58 247.15,406.37 247.40,406.37 247.40,402.16 247.47,402.16 247.47,406.37 247.51,406.37 247.51,402.16 247.65,402.16 247.65,397.95 247.72,397.95 247.72,402.16 247.76,402.16 247.76,397.95 247.90,397.95 247.90,393.74 247.97,393.74 247.97,397.95 248.01,397.95 248.01,393.74 248.15,393.74 248.15,389.53 248.40,389.53 248.40,385.32 248.75,385.32 248.75,381.11 248.85,381.11 248.85,385.32 248.91,385.32 248.91,381.11 249.10,381.11 249.10,376.90 249.45,376.90 249.45,372.69 249.80,372.69 249.80,368.48 250.55,368.48 250.55,372.69 250.78,372.69 250.78,368.48 250.89,368.48 250.89,372.69 251.30,372.69 251.30,376.90 252.05,376.90 252.05,381.11 252.80,381.11 252.80,385.32 253.50,385.32 253.50,381.11 253.71,381.11 253.71,385.32 253.81,385.32 253.81,381.11 254.20,381.11 254.20,376.90 254.57,376.90 254.57,372.69 254.95,372.69 254.95,368.48 255.32,368.48 255.32,364.27 255.70,364.27 255.70,360.06 256.17,360.06 256.17,355.85 256.63,355.85 256.63,351.64 256.77,351.64 256.77,355.85 256.84,355.85 256.84,351.64 257.10,351.64 257.10,347.43 257.85,347.43 257.85,351.64 258.08,351.64 258.08,347.43 258.19,347.43 258.19,351.64 258.60,351.64 258.60,355.85 258.88,355.85 258.88,360.06 259.16,360.06 259.16,364.27 259.44,364.27 259.44,368.48 259.72,368.48 259.72,372.69 260.00,372.69 260.00,376.90 260.50,376.90 260.50,381.11 261.00,381.11 261.00,385.32 261.15,385.32 261.15,381.11 261.23,381.11 261.23,385.32 261.50,385.32 261.50,389.53 261.66,389.53 261.66,385.32 261.81,385.32 261.81,381.11 261.86,381.11 261.86,385.32 261.88,385.32 261.88,381.11 261.97,381.11 261.97,376.90 262.01,376.90 262.01,381.11 262.04,381.11 262.04,376.90 262.12,376.90 262.12,372.69 262.28,372.69 262.28,368.48 262.32,368.48 262.32,372.69 262.35,372.69 262.35,368.48 262.43,368.48 262.43,364.27 262.59,364.27 262.59,360.06 262.64,360.06 262.64,364.27 262.66,364.27 262.66,360.06 262.74,360.06 262.74,355.85 262.90,355.85 262.90,351.64 263.11,351.64 263.11,347.43 263.33,347.43 263.33,343.22 263.54,343.22 263.54,339.01 263.61,339.01 263.61,343.22 263.64,343.22 263.64,339.01 263.76,339.01 263.76,334.80 263.97,334.80 263.97,330.59 264.04,330.59 264.04,334.80 264.07,334.80 264.07,330.59 264.19,330.59 264.19,326.38 264.40,326.38 264.40,322.17 265.90,322.17 265.90,326.38 266.13,326.38 266.13,330.59 266.20,330.59 266.20,326.38 266.24,326.38 266.24,330.59 266.37,330.59 266.37,334.80 266.60,334.80 266.60,339.01 266.83,339.01 266.83,343.22 267.07,343.22 267.07,347.43 267.30,347.43 267.30,351.64 267.45,351.64 267.45,355.85 267.60,355.85 267.60,360.06 267.65,360.06 267.65,355.85 267.67,355.85 267.67,360.06 267.75,360.06 267.75,364.27 267.90,364.27 267.90,368.48 267.95,368.48 267.95,364.27 267.97,364.27 267.97,368.48 268.05,368.48 268.05,372.69 268.20,372.69 268.20,376.90 268.35,376.90 268.35,381.11 268.50,381.11 268.50,385.32 268.65,385.32 268.65,389.53 268.80,389.53 268.80,393.74 269.03,393.74 269.03,397.95 269.27,397.95 269.27,402.16 269.50,402.16 269.50,406.37 269.73,406.37 269.73,410.58 269.97,410.58 269.97,414.79 270.04,414.79 270.04,410.58 270.07,410.58 270.07,414.79 270.20,414.79 270.20,419.00" fill="none" stroke="#151112" stroke-width="1.15" stroke-linejoin="miter" stroke-miterlimit="2"/>
<text x="175.90" y="303.70" font-size="6.6" text-anchor="middle" fill="#231f20" class="ls">1483</text>
<line x1="175.10" y1="305.60" x2="175.10" y2="323.50" stroke="#2e2a2b" stroke-width="0.85" stroke-dasharray="1.9,1.7"/>
<text x="203.60" y="312.60" font-size="6.6" text-anchor="middle" fill="#231f20" class="ls">1799</text>
<line x1="203.50" y1="313.80" x2="203.50" y2="331.50" stroke="#2e2a2b" stroke-width="0.85" stroke-dasharray="1.9,1.7"/>
<text x="221.00" y="274.60" font-size="6.6" text-anchor="middle" fill="#231f20" class="ls">1977</text>
<line x1="220.40" y1="276.20" x2="220.40" y2="295.00" stroke="#2e2a2b" stroke-width="0.85" stroke-dasharray="1.9,1.7"/>
<text x="240.50" y="265.90" font-size="6.6" text-anchor="middle" fill="#231f20" class="ls">2215</text>
<line x1="240.40" y1="267.50" x2="240.40" y2="287.00" stroke="#2e2a2b" stroke-width="0.85" stroke-dasharray="1.9,1.7"/>
<text x="258.00" y="321.20" font-size="6.6" text-anchor="middle" fill="#231f20" class="ls">2427</text>
<line x1="258.00" y1="322.80" x2="258.00" y2="343.00" stroke="#2e2a2b" stroke-width="0.85" stroke-dasharray="1.9,1.7"/>
<text x="265.20" y="300.90" font-size="6.6" text-anchor="middle" fill="#231f20" class="ls">2505</text>
<line x1="265.20" y1="302.40" x2="265.20" y2="321.00" stroke="#2e2a2b" stroke-width="0.85" stroke-dasharray="1.9,1.7"/>
<text x="1.70" y="464.30" font-size="11.2" font-weight="bold" fill="#000">D</text>
<rect x="48.00" y="463.60" width="118.06" height="112.00" fill="#fce8da"/>
<rect x="166.06" y="463.60" width="56.84" height="112.00" fill="#d9edf4"/>
<rect x="222.90" y="463.60" width="13.12" height="112.00" fill="#e5dfef"/>
<rect x="236.02" y="463.60" width="30.61" height="112.00" fill="#ebf2df"/>
<rect x="266.63" y="463.60" width="4.37" height="112.00" fill="#f4dddf"/>
<rect x="65.49" y="463.60" width="4.42" height="7.05" fill="#f5caa8"/>
<rect x="96.10" y="463.60" width="4.42" height="7.05" fill="#f5caa8"/>
<rect x="148.57" y="463.60" width="4.42" height="7.05" fill="#f5caa8"/>
<rect x="183.55" y="463.60" width="4.42" height="7.05" fill="#a6c8d2"/>
<rect x="196.67" y="463.60" width="4.42" height="7.05" fill="#b7d4dd"/>
<rect x="231.65" y="463.60" width="4.42" height="7.05" fill="#cec6dd"/>
<rect x="249.14" y="463.60" width="4.42" height="7.05" fill="#cfd9bd"/>
<rect x="109.22" y="470.60" width="4.42" height="7.05" fill="#f8d4b9"/>
<rect x="139.82" y="470.60" width="4.42" height="7.05" fill="#f8d4b9"/>
<rect x="222.90" y="470.60" width="4.42" height="7.05" fill="#cec6dd"/>
<rect x="61.12" y="477.60" width="4.42" height="7.05" fill="#f5caa8"/>
<rect x="65.49" y="477.60" width="4.42" height="7.05" fill="#f5caa8"/>
<rect x="69.86" y="477.60" width="4.42" height="7.05" fill="#f5caa8"/>
<rect x="96.10" y="477.60" width="4.42" height="7.05" fill="#f5caa8"/>
<rect x="100.47" y="477.60" width="4.42" height="7.05" fill="#f5caa8"/>
<rect x="117.96" y="477.60" width="4.42" height="7.05" fill="#f3c098"/>
<rect x="144.20" y="477.60" width="4.42" height="7.05" fill="#f8d4b9"/>
<rect x="157.31" y="477.60" width="4.42" height="7.05" fill="#f8d4b9"/>
<rect x="174.80" y="477.60" width="4.42" height="7.05" fill="#95bbc6"/>
<rect x="192.29" y="477.60" width="4.42" height="7.05" fill="#b7d4dd"/>
<rect x="201.04" y="477.60" width="4.42" height="7.05" fill="#a6c8d2"/>
<rect x="218.53" y="477.60" width="4.42" height="7.05" fill="#b7d4dd"/>
<rect x="222.90" y="477.60" width="4.42" height="7.05" fill="#cec6dd"/>
<rect x="240.39" y="477.60" width="4.42" height="7.05" fill="#cfd9bd"/>
<rect x="257.88" y="477.60" width="4.42" height="7.05" fill="#b4c09a"/>
<rect x="52.37" y="484.60" width="4.42" height="7.05" fill="#f8d4b9"/>
<rect x="87.35" y="484.60" width="4.42" height="7.05" fill="#f8d4b9"/>
<rect x="152.94" y="484.60" width="4.42" height="7.05" fill="#f8d4b9"/>
<rect x="157.31" y="484.60" width="4.42" height="7.05" fill="#f8d4b9"/>
<rect x="174.80" y="484.60" width="4.42" height="7.05" fill="#b7d4dd"/>
<rect x="183.55" y="484.60" width="4.42" height="7.05" fill="#b7d4dd"/>
<rect x="201.04" y="484.60" width="4.42" height="7.05" fill="#a6c8d2"/>
<rect x="218.53" y="484.60" width="4.42" height="7.05" fill="#b7d4dd"/>
<rect x="240.39" y="484.60" width="4.42" height="7.05" fill="#c2ccab"/>
<rect x="48.00" y="491.60" width="4.42" height="7.05" fill="#f8d4b9"/>
<rect x="52.37" y="491.60" width="4.42" height="7.05" fill="#f8d4b9"/>
<rect x="69.86" y="491.60" width="4.42" height="7.05" fill="#f8d4b9"/>
<rect x="78.61" y="491.60" width="4.42" height="7.05" fill="#f8d4b9"/>
<rect x="109.22" y="491.60" width="4.42" height="7.05" fill="#f8d4b9"/>
<rect x="152.94" y="491.60" width="4.42" height="7.05" fill="#f8d4b9"/>
<rect x="170.43" y="491.60" width="4.42" height="7.05" fill="#b7d4dd"/>
<rect x="201.04" y="491.60" width="4.42" height="7.05" fill="#b7d4dd"/>
<rect x="236.02" y="491.60" width="4.42" height="7.05" fill="#cfd9bd"/>
<rect x="48.00" y="498.60" width="4.42" height="7.05" fill="#f3c098"/>
<rect x="56.75" y="498.60" width="4.42" height="7.05" fill="#f5caa8"/>
<rect x="69.86" y="498.60" width="4.42" height="7.05" fill="#f5caa8"/>
<rect x="87.35" y="498.60" width="4.42" height="7.05" fill="#f1b687"/>
<rect x="96.10" y="498.60" width="4.42" height="7.05" fill="#f3c098"/>
<rect x="100.47" y="498.60" width="4.42" height="7.05" fill="#f3c098"/>
<rect x="104.84" y="498.60" width="4.42" height="7.05" fill="#f3c098"/>
<rect x="109.22" y="498.60" width="4.42" height="7.05" fill="#f3c098"/>
<rect x="113.59" y="498.60" width="4.42" height="7.05" fill="#f3c098"/>
<rect x="117.96" y="498.60" width="4.42" height="7.05" fill="#f3c098"/>
<rect x="122.33" y="498.60" width="4.42" height="7.05" fill="#f3c098"/>
<rect x="139.82" y="498.60" width="4.42" height="7.05" fill="#f1b687"/>
<rect x="144.20" y="498.60" width="4.42" height="7.05" fill="#f1b687"/>
<rect x="148.57" y="498.60" width="4.42" height="7.05" fill="#f1b687"/>
<rect x="161.69" y="498.60" width="4.42" height="7.05" fill="#f3c098"/>
<rect x="166.06" y="498.60" width="4.42" height="7.05" fill="#b7d4dd"/>
<rect x="170.43" y="498.60" width="4.42" height="7.05" fill="#95bbc6"/>
<rect x="201.04" y="498.60" width="4.42" height="7.05" fill="#95bbc6"/>
<rect x="209.78" y="498.60" width="4.42" height="7.05" fill="#6296a4"/>
<rect x="214.16" y="498.60" width="4.42" height="7.05" fill="#b7d4dd"/>
<rect x="222.90" y="498.60" width="4.42" height="7.05" fill="#b7accb"/>
<rect x="240.39" y="498.60" width="4.42" height="7.05" fill="#8b9a66"/>
<rect x="257.88" y="498.60" width="4.42" height="7.05" fill="#cfd9bd"/>
<rect x="266.63" y="498.60" width="4.42" height="7.05" fill="#c66b7f"/>
<rect x="56.75" y="505.60" width="4.42" height="7.05" fill="#f1b687"/>
<rect x="61.12" y="505.60" width="4.42" height="7.05" fill="#f1b687"/>
<rect x="69.86" y="505.60" width="4.42" height="7.05" fill="#f3c098"/>
<rect x="78.61" y="505.60" width="4.42" height="7.05" fill="#f5caa8"/>
<rect x="87.35" y="505.60" width="4.42" height="7.05" fill="#f3c098"/>
<rect x="100.47" y="505.60" width="4.42" height="7.05" fill="#f3c098"/>
<rect x="113.59" y="505.60" width="4.42" height="7.05" fill="#f5caa8"/>
<rect x="117.96" y="505.60" width="4.42" height="7.05" fill="#f5caa8"/>
<rect x="122.33" y="505.60" width="4.42" height="7.05" fill="#f5caa8"/>
<rect x="135.45" y="505.60" width="4.42" height="7.05" fill="#f5caa8"/>
<rect x="139.82" y="505.60" width="4.42" height="7.05" fill="#f5caa8"/>
<rect x="144.20" y="505.60" width="4.42" height="7.05" fill="#f5caa8"/>
<rect x="148.57" y="505.60" width="4.42" height="7.05" fill="#f5caa8"/>
<rect x="152.94" y="505.60" width="4.42" height="7.05" fill="#f3c098"/>
<rect x="170.43" y="505.60" width="4.42" height="7.05" fill="#b7d4dd"/>
<rect x="174.80" y="505.60" width="4.42" height="7.05" fill="#a6c8d2"/>
<rect x="179.18" y="505.60" width="4.42" height="7.05" fill="#a6c8d2"/>
<rect x="183.55" y="505.60" width="4.42" height="7.05" fill="#a6c8d2"/>
<rect x="201.04" y="505.60" width="4.42" height="7.05" fill="#6296a4"/>
<rect x="209.78" y="505.60" width="4.42" height="7.05" fill="#a6c8d2"/>
<rect x="214.16" y="505.60" width="4.42" height="7.05" fill="#b7d4dd"/>
<rect x="218.53" y="505.60" width="4.42" height="7.05" fill="#6296a4"/>
<rect x="222.90" y="505.60" width="4.42" height="7.05" fill="#aca0c2"/>
<rect x="227.27" y="505.60" width="4.42" height="7.05" fill="#aca0c2"/>
<rect x="240.39" y="505.60" width="4.42" height="7.05" fill="#8b9a66"/>
<rect x="266.63" y="505.60" width="4.42" height="7.05" fill="#c05b71"/>
<rect x="52.37" y="512.60" width="4.42" height="7.05" fill="#f8d4b9"/>
<rect x="100.47" y="512.60" width="4.42" height="7.05" fill="#f8d4b9"/>
<rect x="179.18" y="512.60" width="4.42" height="7.05" fill="#b7d4dd"/>
<rect x="266.63" y="512.60" width="4.42" height="7.05" fill="#e7bcc3"/>
<rect x="78.61" y="519.60" width="4.42" height="7.05" fill="#f8d4b9"/>
<rect x="157.31" y="519.60" width="4.42" height="7.05" fill="#f8d4b9"/>
<rect x="201.04" y="519.60" width="4.42" height="7.05" fill="#a6c8d2"/>
<rect x="48.00" y="526.60" width="4.42" height="7.05" fill="#efac77"/>
<rect x="52.37" y="526.60" width="4.42" height="7.05" fill="#f5caa8"/>
<rect x="56.75" y="526.60" width="4.42" height="7.05" fill="#f5caa8"/>
<rect x="61.12" y="526.60" width="4.42" height="7.05" fill="#f5caa8"/>
<rect x="74.24" y="526.60" width="4.42" height="7.05" fill="#f3c098"/>
<rect x="82.98" y="526.60" width="4.42" height="7.05" fill="#f3c098"/>
<rect x="100.47" y="526.60" width="4.42" height="7.05" fill="#f1b687"/>
<rect x="104.84" y="526.60" width="4.42" height="7.05" fill="#f1b687"/>
<rect x="109.22" y="526.60" width="4.42" height="7.05" fill="#f1b687"/>
<rect x="117.96" y="526.60" width="4.42" height="7.05" fill="#f1b687"/>
<rect x="122.33" y="526.60" width="4.42" height="7.05" fill="#f1b687"/>
<rect x="131.08" y="526.60" width="4.42" height="7.05" fill="#f8d4b9"/>
<rect x="135.45" y="526.60" width="4.42" height="7.05" fill="#f3c098"/>
<rect x="139.82" y="526.60" width="4.42" height="7.05" fill="#f3c098"/>
<rect x="144.20" y="526.60" width="4.42" height="7.05" fill="#f1b687"/>
<rect x="148.57" y="526.60" width="4.42" height="7.05" fill="#f1b687"/>
<rect x="152.94" y="526.60" width="4.42" height="7.05" fill="#f1b687"/>
<rect x="161.69" y="526.60" width="4.42" height="7.05" fill="#f3c098"/>
<rect x="170.43" y="526.60" width="4.42" height="7.05" fill="#95bbc6"/>
<rect x="192.29" y="526.60" width="4.42" height="7.05" fill="#b7d4dd"/>
<rect x="196.67" y="526.60" width="4.42" height="7.05" fill="#95bbc6"/>
<rect x="205.41" y="526.60" width="4.42" height="7.05" fill="#84afbb"/>
<rect x="222.90" y="526.60" width="4.42" height="7.05" fill="#c3b9d4"/>
<rect x="227.27" y="526.60" width="4.42" height="7.05" fill="#c3b9d4"/>
<rect x="240.39" y="526.60" width="4.42" height="7.05" fill="#b4c09a"/>
<rect x="244.76" y="526.60" width="4.42" height="7.05" fill="#b4c09a"/>
<rect x="249.14" y="526.60" width="4.42" height="7.05" fill="#b4c09a"/>
<rect x="253.51" y="526.60" width="4.42" height="7.05" fill="#cfd9bd"/>
<rect x="56.75" y="533.60" width="4.42" height="7.05" fill="#f5caa8"/>
<rect x="61.12" y="533.60" width="4.42" height="7.05" fill="#f5caa8"/>
<rect x="87.35" y="533.60" width="4.42" height="7.05" fill="#f8d4b9"/>
<rect x="96.10" y="533.60" width="4.42" height="7.05" fill="#efac77"/>
<rect x="144.20" y="533.60" width="4.42" height="7.05" fill="#f8d4b9"/>
<rect x="183.55" y="533.60" width="4.42" height="7.05" fill="#a6c8d2"/>
<rect x="187.92" y="533.60" width="4.42" height="7.05" fill="#95bbc6"/>
<rect x="240.39" y="533.60" width="4.42" height="7.05" fill="#cfd9bd"/>
<rect x="65.49" y="540.60" width="4.42" height="7.05" fill="#f3c098"/>
<rect x="78.61" y="540.60" width="4.42" height="7.05" fill="#f8d4b9"/>
<rect x="96.10" y="540.60" width="4.42" height="7.05" fill="#f8d4b9"/>
<rect x="174.80" y="540.60" width="4.42" height="7.05" fill="#b7d4dd"/>
<rect x="240.39" y="540.60" width="4.42" height="7.05" fill="#c2ccab"/>
<rect x="65.49" y="547.60" width="4.42" height="7.05" fill="#f5caa8"/>
<rect x="78.61" y="547.60" width="4.42" height="7.05" fill="#f8d4b9"/>
<rect x="100.47" y="547.60" width="4.42" height="7.05" fill="#f8d4b9"/>
<rect x="113.59" y="547.60" width="4.42" height="7.05" fill="#f8d4b9"/>
<rect x="122.33" y="547.60" width="4.42" height="7.05" fill="#f8d4b9"/>
<rect x="144.20" y="547.60" width="4.42" height="7.05" fill="#f1b687"/>
<rect x="218.53" y="547.60" width="4.42" height="7.05" fill="#b7d4dd"/>
<rect x="266.63" y="547.60" width="4.42" height="7.05" fill="#e0acb6"/>
<rect x="78.61" y="554.60" width="4.42" height="7.05" fill="#f8d4b9"/>
<rect x="48.00" y="561.60" width="4.42" height="7.05" fill="#f8d4b9"/>
<rect x="69.86" y="561.60" width="4.42" height="7.05" fill="#f8d4b9"/>
<rect x="113.59" y="561.60" width="4.42" height="7.05" fill="#f5caa8"/>
<rect x="117.96" y="561.60" width="4.42" height="7.05" fill="#f5caa8"/>
<rect x="161.69" y="561.60" width="4.42" height="7.05" fill="#f3c098"/>
<rect x="170.43" y="561.60" width="4.42" height="7.05" fill="#b7d4dd"/>
<rect x="174.80" y="561.60" width="4.42" height="7.05" fill="#6296a4"/>
<rect x="192.29" y="561.60" width="4.42" height="7.05" fill="#b7d4dd"/>
<rect x="196.67" y="561.60" width="4.42" height="7.05" fill="#b7d4dd"/>
<rect x="201.04" y="561.60" width="4.42" height="7.05" fill="#b7d4dd"/>
<rect x="209.78" y="561.60" width="4.42" height="7.05" fill="#95bbc6"/>
<rect x="218.53" y="561.60" width="4.42" height="7.05" fill="#73a2af"/>
<rect x="222.90" y="561.60" width="4.42" height="7.05" fill="#a193b9"/>
<rect x="240.39" y="561.60" width="4.42" height="7.05" fill="#a6b389"/>
<rect x="249.14" y="561.60" width="4.42" height="7.05" fill="#b4c09a"/>
<rect x="257.88" y="561.60" width="4.42" height="7.05" fill="#a6b389"/>
<rect x="266.63" y="561.60" width="4.42" height="7.05" fill="#da9ca8"/>
<rect x="69.86" y="568.60" width="4.42" height="7.05" fill="#f1b687"/>
<rect x="74.24" y="568.60" width="4.42" height="7.05" fill="#f1b687"/>
<rect x="82.98" y="568.60" width="4.42" height="7.05" fill="#f1b687"/>
<rect x="87.35" y="568.60" width="4.42" height="7.05" fill="#f1b687"/>
<rect x="100.47" y="568.60" width="4.42" height="7.05" fill="#f5caa8"/>
<rect x="131.08" y="568.60" width="4.42" height="7.05" fill="#f5caa8"/>
<rect x="266.63" y="568.60" width="4.42" height="7.05" fill="#e7bcc3"/>
<rect x="78.61" y="463.60" width="4.42" height="7.05" fill="#fadec9"/>
<rect x="100.47" y="463.60" width="4.42" height="7.05" fill="#fadec9"/>
<rect x="109.22" y="463.60" width="4.42" height="7.05" fill="#fadec9"/>
<rect x="122.33" y="463.60" width="4.42" height="7.05" fill="#fadec9"/>
<rect x="144.20" y="463.60" width="4.42" height="7.05" fill="#fadec9"/>
<rect x="152.94" y="463.60" width="4.42" height="7.05" fill="#fadec9"/>
<rect x="161.69" y="463.60" width="4.42" height="7.05" fill="#fadec9"/>
<rect x="166.06" y="463.60" width="4.42" height="7.05" fill="#c8e1e9"/>
<rect x="174.80" y="463.60" width="4.42" height="7.05" fill="#c8e1e9"/>
<rect x="266.63" y="463.60" width="4.42" height="7.05" fill="#edcdd1"/>
<rect x="74.24" y="470.60" width="4.42" height="7.05" fill="#fadec9"/>
<rect x="78.61" y="470.60" width="4.42" height="7.05" fill="#fadec9"/>
<rect x="100.47" y="470.60" width="4.42" height="7.05" fill="#fadec9"/>
<rect x="122.33" y="470.60" width="4.42" height="7.05" fill="#fadec9"/>
<rect x="144.20" y="470.60" width="4.42" height="7.05" fill="#fadec9"/>
<rect x="152.94" y="470.60" width="4.42" height="7.05" fill="#fadec9"/>
<rect x="157.31" y="470.60" width="4.42" height="7.05" fill="#fadec9"/>
<rect x="166.06" y="470.60" width="4.42" height="7.05" fill="#c8e1e9"/>
<rect x="179.18" y="470.60" width="4.42" height="7.05" fill="#c8e1e9"/>
<rect x="187.92" y="470.60" width="4.42" height="7.05" fill="#c8e1e9"/>
<rect x="196.67" y="470.60" width="4.42" height="7.05" fill="#c8e1e9"/>
<rect x="205.41" y="470.60" width="4.42" height="7.05" fill="#c8e1e9"/>
<rect x="236.02" y="470.60" width="4.42" height="7.05" fill="#dde5ce"/>
<rect x="253.51" y="470.60" width="4.42" height="7.05" fill="#dde5ce"/>
<rect x="262.25" y="470.60" width="4.42" height="7.05" fill="#dde5ce"/>
<rect x="74.24" y="477.60" width="4.42" height="7.05" fill="#fadec9"/>
<rect x="78.61" y="477.60" width="4.42" height="7.05" fill="#fadec9"/>
<rect x="135.45" y="477.60" width="4.42" height="7.05" fill="#fadec9"/>
<rect x="139.82" y="477.60" width="4.42" height="7.05" fill="#fadec9"/>
<rect x="166.06" y="477.60" width="4.42" height="7.05" fill="#c8e1e9"/>
<rect x="183.55" y="477.60" width="4.42" height="7.05" fill="#c8e1e9"/>
<rect x="214.16" y="477.60" width="4.42" height="7.05" fill="#c8e1e9"/>
<rect x="227.27" y="477.60" width="4.42" height="7.05" fill="#dad2e6"/>
<rect x="48.00" y="484.60" width="4.42" height="7.05" fill="#fadec9"/>
<rect x="61.12" y="484.60" width="4.42" height="7.05" fill="#fadec9"/>
<rect x="96.10" y="484.60" width="4.42" height="7.05" fill="#fadec9"/>
<rect x="100.47" y="484.60" width="4.42" height="7.05" fill="#fadec9"/>
<rect x="113.59" y="484.60" width="4.42" height="7.05" fill="#fadec9"/>
<rect x="117.96" y="484.60" width="4.42" height="7.05" fill="#fadec9"/>
<rect x="131.08" y="484.60" width="4.42" height="7.05" fill="#fadec9"/>
<rect x="170.43" y="484.60" width="4.42" height="7.05" fill="#c8e1e9"/>
<rect x="179.18" y="484.60" width="4.42" height="7.05" fill="#c8e1e9"/>
<rect x="187.92" y="484.60" width="4.42" height="7.05" fill="#c8e1e9"/>
<rect x="209.78" y="484.60" width="4.42" height="7.05" fill="#c8e1e9"/>
<rect x="244.76" y="484.60" width="4.42" height="7.05" fill="#dde5ce"/>
<rect x="131.08" y="491.60" width="4.42" height="7.05" fill="#fadec9"/>
<rect x="183.55" y="491.60" width="4.42" height="7.05" fill="#c8e1e9"/>
<rect x="192.29" y="491.60" width="4.42" height="7.05" fill="#c8e1e9"/>
<rect x="240.39" y="491.60" width="4.42" height="7.05" fill="#dde5ce"/>
<rect x="253.51" y="491.60" width="4.42" height="7.05" fill="#dde5ce"/>
<rect x="257.88" y="491.60" width="4.42" height="7.05" fill="#dde5ce"/>
<rect x="78.61" y="498.60" width="4.42" height="7.05" fill="#fadec9"/>
<rect x="174.80" y="498.60" width="4.42" height="7.05" fill="#c8e1e9"/>
<rect x="218.53" y="498.60" width="4.42" height="7.05" fill="#c8e1e9"/>
<rect x="236.02" y="498.60" width="4.42" height="7.05" fill="#dde5ce"/>
<rect x="74.24" y="505.60" width="4.42" height="7.05" fill="#fadec9"/>
<rect x="82.98" y="505.60" width="4.42" height="7.05" fill="#fadec9"/>
<rect x="96.10" y="505.60" width="4.42" height="7.05" fill="#fadec9"/>
<rect x="157.31" y="505.60" width="4.42" height="7.05" fill="#fadec9"/>
<rect x="161.69" y="505.60" width="4.42" height="7.05" fill="#fadec9"/>
<rect x="187.92" y="505.60" width="4.42" height="7.05" fill="#c8e1e9"/>
<rect x="205.41" y="505.60" width="4.42" height="7.05" fill="#c8e1e9"/>
<rect x="231.65" y="505.60" width="4.42" height="7.05" fill="#dad2e6"/>
<rect x="56.75" y="512.60" width="4.42" height="7.05" fill="#fadec9"/>
<rect x="65.49" y="512.60" width="4.42" height="7.05" fill="#fadec9"/>
<rect x="69.86" y="512.60" width="4.42" height="7.05" fill="#fadec9"/>
<rect x="82.98" y="512.60" width="4.42" height="7.05" fill="#fadec9"/>
<rect x="131.08" y="512.60" width="4.42" height="7.05" fill="#fadec9"/>
<rect x="144.20" y="512.60" width="4.42" height="7.05" fill="#fadec9"/>
<rect x="196.67" y="512.60" width="4.42" height="7.05" fill="#c8e1e9"/>
<rect x="218.53" y="512.60" width="4.42" height="7.05" fill="#c8e1e9"/>
<rect x="262.25" y="512.60" width="4.42" height="7.05" fill="#dde5ce"/>
<rect x="65.49" y="519.60" width="4.42" height="7.05" fill="#fadec9"/>
<rect x="74.24" y="519.60" width="4.42" height="7.05" fill="#fadec9"/>
<rect x="87.35" y="519.60" width="4.42" height="7.05" fill="#fadec9"/>
<rect x="100.47" y="519.60" width="4.42" height="7.05" fill="#fadec9"/>
<rect x="104.84" y="519.60" width="4.42" height="7.05" fill="#fadec9"/>
<rect x="139.82" y="519.60" width="4.42" height="7.05" fill="#fadec9"/>
<rect x="205.41" y="519.60" width="4.42" height="7.05" fill="#c8e1e9"/>
<rect x="227.27" y="519.60" width="4.42" height="7.05" fill="#dad2e6"/>
<rect x="244.76" y="519.60" width="4.42" height="7.05" fill="#dde5ce"/>
<rect x="78.61" y="526.60" width="4.42" height="7.05" fill="#fadec9"/>
<rect x="166.06" y="526.60" width="4.42" height="7.05" fill="#c8e1e9"/>
<rect x="209.78" y="526.60" width="4.42" height="7.05" fill="#c8e1e9"/>
<rect x="231.65" y="526.60" width="4.42" height="7.05" fill="#dad2e6"/>
<rect x="257.88" y="526.60" width="4.42" height="7.05" fill="#dde5ce"/>
<rect x="262.25" y="526.60" width="4.42" height="7.05" fill="#dde5ce"/>
<rect x="74.24" y="533.60" width="4.42" height="7.05" fill="#fadec9"/>
<rect x="82.98" y="533.60" width="4.42" height="7.05" fill="#fadec9"/>
<rect x="104.84" y="533.60" width="4.42" height="7.05" fill="#fadec9"/>
<rect x="131.08" y="533.60" width="4.42" height="7.05" fill="#fadec9"/>
<rect x="135.45" y="533.60" width="4.42" height="7.05" fill="#fadec9"/>
<rect x="209.78" y="533.60" width="4.42" height="7.05" fill="#c8e1e9"/>
<rect x="222.90" y="533.60" width="4.42" height="7.05" fill="#dad2e6"/>
<rect x="244.76" y="533.60" width="4.42" height="7.05" fill="#dde5ce"/>
<rect x="262.25" y="533.60" width="4.42" height="7.05" fill="#dde5ce"/>
<rect x="52.37" y="540.60" width="4.42" height="7.05" fill="#fadec9"/>
<rect x="56.75" y="540.60" width="4.42" height="7.05" fill="#fadec9"/>
<rect x="82.98" y="540.60" width="4.42" height="7.05" fill="#fadec9"/>
<rect x="109.22" y="540.60" width="4.42" height="7.05" fill="#fadec9"/>
<rect x="113.59" y="540.60" width="4.42" height="7.05" fill="#fadec9"/>
<rect x="117.96" y="540.60" width="4.42" height="7.05" fill="#fadec9"/>
<rect x="122.33" y="540.60" width="4.42" height="7.05" fill="#fadec9"/>
<rect x="139.82" y="540.60" width="4.42" height="7.05" fill="#fadec9"/>
<rect x="144.20" y="540.60" width="4.42" height="7.05" fill="#fadec9"/>
<rect x="148.57" y="540.60" width="4.42" height="7.05" fill="#fadec9"/>
<rect x="166.06" y="540.60" width="4.42" height="7.05" fill="#c8e1e9"/>
<rect x="170.43" y="540.60" width="4.42" height="7.05" fill="#c8e1e9"/>
<rect x="214.16" y="540.60" width="4.42" height="7.05" fill="#c8e1e9"/>
<rect x="227.27" y="540.60" width="4.42" height="7.05" fill="#dad2e6"/>
<rect x="249.14" y="540.60" width="4.42" height="7.05" fill="#dde5ce"/>
<rect x="253.51" y="540.60" width="4.42" height="7.05" fill="#dde5ce"/>
<rect x="262.25" y="540.60" width="4.42" height="7.05" fill="#dde5ce"/>
<rect x="170.43" y="547.60" width="4.42" height="7.05" fill="#c8e1e9"/>
<rect x="183.55" y="547.60" width="4.42" height="7.05" fill="#c8e1e9"/>
<rect x="262.25" y="547.60" width="4.42" height="7.05" fill="#dde5ce"/>
<rect x="65.49" y="554.60" width="4.42" height="7.05" fill="#fadec9"/>
<rect x="69.86" y="554.60" width="4.42" height="7.05" fill="#fadec9"/>
<rect x="82.98" y="554.60" width="4.42" height="7.05" fill="#fadec9"/>
<rect x="126.71" y="554.60" width="4.42" height="7.05" fill="#fadec9"/>
<rect x="139.82" y="554.60" width="4.42" height="7.05" fill="#fadec9"/>
<rect x="148.57" y="554.60" width="4.42" height="7.05" fill="#fadec9"/>
<rect x="157.31" y="554.60" width="4.42" height="7.05" fill="#fadec9"/>
<rect x="170.43" y="554.60" width="4.42" height="7.05" fill="#c8e1e9"/>
<rect x="222.90" y="554.60" width="4.42" height="7.05" fill="#dad2e6"/>
<rect x="231.65" y="554.60" width="4.42" height="7.05" fill="#dad2e6"/>
<rect x="236.02" y="554.60" width="4.42" height="7.05" fill="#dde5ce"/>
<rect x="257.88" y="554.60" width="4.42" height="7.05" fill="#dde5ce"/>
<rect x="52.37" y="561.60" width="4.42" height="7.05" fill="#fadec9"/>
<rect x="122.33" y="561.60" width="4.42" height="7.05" fill="#fadec9"/>
<rect x="135.45" y="561.60" width="4.42" height="7.05" fill="#fadec9"/>
<rect x="139.82" y="561.60" width="4.42" height="7.05" fill="#fadec9"/>
<rect x="148.57" y="561.60" width="4.42" height="7.05" fill="#fadec9"/>
<rect x="253.51" y="561.60" width="4.42" height="7.05" fill="#dde5ce"/>
<rect x="109.22" y="568.60" width="4.42" height="7.05" fill="#fadec9"/>
<rect x="135.45" y="568.60" width="4.42" height="7.05" fill="#fadec9"/>
<rect x="139.82" y="568.60" width="4.42" height="7.05" fill="#fadec9"/>
<rect x="157.31" y="568.60" width="4.42" height="7.05" fill="#fadec9"/>
<rect x="166.06" y="568.60" width="4.42" height="7.05" fill="#c8e1e9"/>
<rect x="170.43" y="568.60" width="4.42" height="7.05" fill="#c8e1e9"/>
<rect x="196.67" y="568.60" width="4.42" height="7.05" fill="#c8e1e9"/>
<rect x="214.16" y="568.60" width="4.42" height="7.05" fill="#c8e1e9"/>
<rect x="218.53" y="568.60" width="4.42" height="7.05" fill="#c8e1e9"/>
<rect x="236.02" y="568.60" width="4.42" height="7.05" fill="#dde5ce"/>
<text x="45.90" y="460.40" font-size="6.9" font-weight="bold" text-anchor="end" fill="#000">Tissue</text>
<text x="45.60" y="470.00" font-size="6.9" text-anchor="end" fill="#2e2b2c" class="ls">Airway</text>
<text x="273.40" y="469.60" font-size="7.1" fill="#2e2b2c" class="ls">11</text>
<text x="45.60" y="477.00" font-size="6.9" text-anchor="end" fill="#2e2b2c" class="ls">Bladder</text>
<text x="273.40" y="476.60" font-size="7.1" fill="#2e2b2c" class="ls">5</text>
<text x="45.60" y="484.00" font-size="6.9" text-anchor="end" fill="#2e2b2c" class="ls">Blood</text>
<text x="273.40" y="483.60" font-size="7.1" fill="#2e2b2c" class="ls">27</text>
<text x="45.60" y="491.00" font-size="6.9" text-anchor="end" fill="#2e2b2c" class="ls">Brain</text>
<text x="273.40" y="490.60" font-size="7.1" fill="#2e2b2c" class="ls">18</text>
<text x="45.60" y="498.00" font-size="6.9" text-anchor="end" fill="#2e2b2c" class="ls">Breast</text>
<text x="273.40" y="497.60" font-size="7.1" fill="#2e2b2c" class="ls">19</text>
<text x="45.60" y="505.00" font-size="6.9" text-anchor="end" fill="#2e2b2c" class="ls">Colorectal</text>
<text x="273.40" y="504.60" font-size="7.1" fill="#2e2b2c" class="ls">75</text>
<text x="45.60" y="512.00" font-size="6.9" text-anchor="end" fill="#2e2b2c" class="ls">Endometrium</text>
<text x="273.40" y="511.60" font-size="7.1" fill="#2e2b2c" class="ls">72</text>
<text x="45.60" y="519.00" font-size="6.9" text-anchor="end" fill="#2e2b2c" class="ls">Head &amp; neck</text>
<text x="273.40" y="518.60" font-size="7.1" fill="#2e2b2c" class="ls">6</text>
<text x="45.60" y="526.00" font-size="6.9" text-anchor="end" fill="#2e2b2c" class="ls">Lung small</text>
<text x="273.40" y="525.60" font-size="7.1" fill="#2e2b2c" class="ls">6</text>
<text x="45.60" y="533.00" font-size="6.9" text-anchor="end" fill="#2e2b2c" class="ls">Lung non-small</text>
<text x="273.40" y="532.60" font-size="7.1" fill="#2e2b2c" class="ls">76</text>
<text x="45.60" y="540.00" font-size="6.9" text-anchor="end" fill="#2e2b2c" class="ls">Melanoma</text>
<text x="273.40" y="539.60" font-size="7.1" fill="#2e2b2c" class="ls">23</text>
<text x="45.60" y="547.00" font-size="6.9" text-anchor="end" fill="#2e2b2c" class="ls">Other</text>
<text x="273.40" y="546.60" font-size="7.1" fill="#2e2b2c" class="ls">14</text>
<text x="45.60" y="554.00" font-size="6.9" text-anchor="end" fill="#2e2b2c" class="ls">Ovarian</text>
<text x="273.40" y="553.60" font-size="7.1" fill="#2e2b2c" class="ls">15</text>
<text x="45.60" y="561.00" font-size="6.9" text-anchor="end" fill="#2e2b2c" class="ls">Prostate</text>
<text x="273.40" y="560.60" font-size="7.1" fill="#2e2b2c" class="ls">5</text>
<text x="45.60" y="568.00" font-size="6.9" text-anchor="end" fill="#2e2b2c" class="ls">Renal</text>
<text x="273.40" y="567.60" font-size="7.1" fill="#2e2b2c" class="ls">53</text>
<text x="45.60" y="575.00" font-size="6.9" text-anchor="end" fill="#2e2b2c" class="ls">Stomach</text>
<text x="273.40" y="574.60" font-size="7.1" fill="#2e2b2c" class="ls">33</text>
<text x="259.30" y="451.60" font-size="6.85" font-weight="bold" fill="#111" class="ls">Total # of</text>
<text x="259.30" y="460.00" font-size="6.85" font-weight="bold" fill="#111" class="ls">mutations</text>
<text x="48.60" y="585.60" font-size="6.33" fill="#2e2b2c" class="ls">Number of mutations per 50 amino acids</text>
<text x="170.30" y="581.20" font-size="6.6" text-anchor="middle" fill="#231f20">0</text>
<text x="211.20" y="581.20" font-size="6.6" text-anchor="middle" fill="#231f20">9</text>
<rect x="168.50" y="583.8" width="4.45" height="8" fill="#ffffff" stroke="#9a9a9a" stroke-width="0.5"/>
<rect x="172.95" y="583.8" width="4.45" height="8" fill="#e5e5e5" stroke="#9a9a9a" stroke-width="0.5"/>
<rect x="177.40" y="583.8" width="4.45" height="8" fill="#cbcbcb" stroke="#9a9a9a" stroke-width="0.5"/>
<rect x="181.85" y="583.8" width="4.45" height="8" fill="#b1b1b1" stroke="#9a9a9a" stroke-width="0.5"/>
<rect x="186.30" y="583.8" width="4.45" height="8" fill="#979797" stroke="#9a9a9a" stroke-width="0.5"/>
<rect x="190.75" y="583.8" width="4.45" height="8" fill="#7c7c7c" stroke="#9a9a9a" stroke-width="0.5"/>
<rect x="195.20" y="583.8" width="4.45" height="8" fill="#626262" stroke="#9a9a9a" stroke-width="0.5"/>
<rect x="199.65" y="583.8" width="4.45" height="8" fill="#484848" stroke="#9a9a9a" stroke-width="0.5"/>
<rect x="204.10" y="583.8" width="4.45" height="8" fill="#2e2e2e" stroke="#9a9a9a" stroke-width="0.5"/>
<rect x="208.55" y="583.8" width="4.45" height="8" fill="#141414" stroke="#9a9a9a" stroke-width="0.5"/>
<line x1="168.5" y1="583.8" x2="213.0" y2="583.8" stroke="#333" stroke-width="0.8"/>
<text x="299.60" y="10.30" font-size="10.8" font-weight="bold" fill="#000">E</text>
<text x="315.00" y="24.00" font-size="7.3" font-weight="bold" fill="#231f20">Study</text>
<text x="315.00" y="32.50" font-size="7.3" font-weight="bold" fill="#231f20">(adapted from cBIO)</text>
<text x="450.80" y="24.00" font-size="7.3" font-weight="bold" text-anchor="end" fill="#231f20"># of samples w/</text>
<text x="451.6" y="32.5" font-size="7.3" font-weight="bold" text-anchor="end" fill="#231f20"><tspan font-style="italic">MTOR</tspan> mutations</text>
<text x="515.40" y="24.00" font-size="7.3" font-weight="bold" text-anchor="end" fill="#231f20">% of samples w/</text>
<text x="515.4" y="32.5" font-size="7.3" font-weight="bold" text-anchor="end" fill="#231f20"><tspan font-style="italic">MTOR</tspan> mutations</text>
<rect x="315.00" y="36.30" width="201.50" height="8.72" fill="#dededf"/>
<rect x="315.00" y="53.74" width="201.50" height="8.72" fill="#dededf"/>
<rect x="315.00" y="71.18" width="201.50" height="8.72" fill="#dededf"/>
<rect x="315.00" y="88.62" width="201.50" height="8.72" fill="#dededf"/>
<rect x="315.00" y="106.06" width="201.50" height="8.72" fill="#dededf"/>
<rect x="315.00" y="123.50" width="201.50" height="8.72" fill="#dededf"/>
<text x="315.00" y="42.80" font-size="7.3" fill="#2a2627" class="ls">Colorectal (Genentech)</text>
<text x="427.90" y="42.80" font-size="7.3" text-anchor="end" fill="#2a2627" class="ls">8</text>
<text x="498.90" y="42.80" font-size="7.3" text-anchor="end" fill="#2a2627" class="ls">11.10%</text>
<text x="315.00" y="51.52" font-size="7.3" fill="#2a2627" class="ls">Endometrial (TCGA)</text>
<text x="427.90" y="51.52" font-size="7.3" text-anchor="end" fill="#2a2627" class="ls">26</text>
<text x="498.90" y="51.52" font-size="7.3" text-anchor="end" fill="#2a2627" class="ls">10.50%</text>
<text x="315.00" y="60.24" font-size="7.3" fill="#2a2627" class="ls">CCLE (Broad)</text>
<text x="427.90" y="60.24" font-size="7.3" text-anchor="end" fill="#2a2627" class="ls">85</text>
<text x="498.90" y="60.24" font-size="7.3" text-anchor="end" fill="#2a2627" class="ls">9.40%</text>
<text x="315.00" y="68.96" font-size="7.3" fill="#2a2627" class="ls">Stomach (TCGA)</text>
<text x="427.90" y="68.96" font-size="7.3" text-anchor="end" fill="#2a2627" class="ls">18</text>
<text x="498.90" y="68.96" font-size="7.3" text-anchor="end" fill="#2a2627" class="ls">8.20%</text>
<text x="315.00" y="77.68" font-size="7.3" fill="#2a2627" class="ls">Lung adeno. (TCGA)</text>
<text x="427.90" y="77.68" font-size="7.3" text-anchor="end" fill="#2a2627" class="ls">18</text>
<text x="498.90" y="77.68" font-size="7.3" text-anchor="end" fill="#2a2627" class="ls">7.90%</text>
<text x="315.00" y="86.40" font-size="7.3" fill="#2a2627" class="ls">Colorectal (TCGA)</text>
<text x="427.90" y="86.40" font-size="7.3" text-anchor="end" fill="#2a2627" class="ls">16</text>
<text x="498.90" y="86.40" font-size="7.3" text-anchor="end" fill="#2a2627" class="ls">7.10%</text>
<text x="315.00" y="95.12" font-size="7.3" fill="#2a2627" class="ls">Lung squa. (TCGA)</text>
<text x="427.90" y="95.12" font-size="7.3" text-anchor="end" fill="#2a2627" class="ls">12</text>
<text x="498.90" y="95.12" font-size="7.3" text-anchor="end" fill="#2a2627" class="ls">6.70%</text>
<text x="315.00" y="103.84" font-size="7.3" fill="#2a2627" class="ls">Melanoma (TCGA)</text>
<text x="427.90" y="103.84" font-size="7.3" text-anchor="end" fill="#2a2627" class="ls">14</text>
<text x="498.90" y="103.84" font-size="7.3" text-anchor="end" fill="#2a2627" class="ls">6.10%</text>
<text x="315.00" y="112.56" font-size="7.3" fill="#2a2627" class="ls">Renal (TCGA)</text>
<text x="427.90" y="112.56" font-size="7.3" text-anchor="end" fill="#2a2627" class="ls">25</text>
<text x="498.90" y="112.56" font-size="7.3" text-anchor="end" fill="#2a2627" class="ls">6.00%</text>
<text x="315.00" y="121.28" font-size="7.3" fill="#2a2627" class="ls">Melanoma (Broad)</text>
<text x="427.90" y="121.28" font-size="7.3" text-anchor="end" fill="#2a2627" class="ls">7</text>
<text x="498.90" y="121.28" font-size="7.3" text-anchor="end" fill="#2a2627" class="ls">5.80%</text>
<text x="315.00" y="130.00" font-size="7.3" fill="#2a2627" class="ls">Lung adeno. (Broad)</text>
<text x="427.90" y="130.00" font-size="7.3" text-anchor="end" fill="#2a2627" class="ls">10</text>
<text x="498.90" y="130.00" font-size="7.3" text-anchor="end" fill="#2a2627" class="ls">5.50%</text>
<line x1="315.0" y1="35.4" x2="516.5" y2="35.4" stroke="#231f20" stroke-width="0.8"/>
</svg>
</body></html>
